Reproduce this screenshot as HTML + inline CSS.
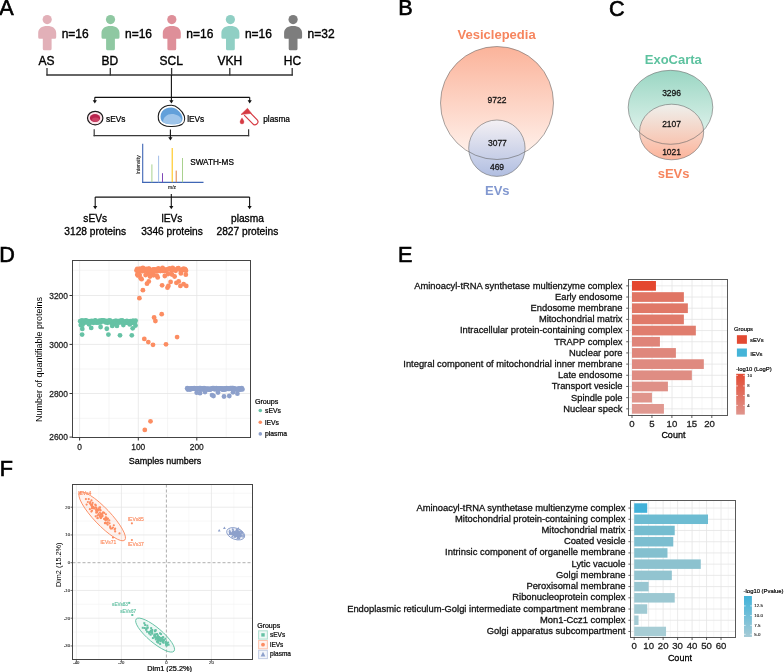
<!DOCTYPE html><html><head><meta charset="utf-8"><style>html,body{margin:0;padding:0;background:#fff;overflow:hidden}svg{display:block}</style></head><body><svg width="784" height="672" viewBox="0 0 784 672" style="font-family:'Liberation Sans',Arial,sans-serif"><defs><linearGradient id="gB1" x1="0" y1="0" x2="0" y2="1"><stop offset="0" stop-color="#fbb39a"/><stop offset="1" stop-color="#fff4ef"/></linearGradient><linearGradient id="gB2" x1="0" y1="0" x2="0" y2="1"><stop offset="0" stop-color="#f3f2f7"/><stop offset="1" stop-color="#aab8de"/></linearGradient><linearGradient id="gC1" x1="0" y1="0" x2="0" y2="1"><stop offset="0" stop-color="#9ad6c3"/><stop offset="1" stop-color="#eaf7f2"/></linearGradient><linearGradient id="gC2" x1="0" y1="0" x2="0" y2="1"><stop offset="0" stop-color="#f2f1ee"/><stop offset="1" stop-color="#fcae93"/></linearGradient><clipPath id="cpB"><circle cx="496.9" cy="148.2" r="28.2"/></clipPath><clipPath id="cpC"><ellipse cx="671.6" cy="132" rx="32.1" ry="27.8"/></clipPath><linearGradient id="cb1" x1="0" y1="0" x2="0" y2="1"><stop offset="0" stop-color="#e34a33"/><stop offset="1" stop-color="#df958d"/></linearGradient><linearGradient id="cb2" x1="0" y1="0" x2="0" y2="1"><stop offset="0" stop-color="#41b3da"/><stop offset="1" stop-color="#a6cbd6"/></linearGradient></defs><text x="-0.70" y="15.40" font-size="21.6" text-anchor="start" fill="#000" stroke="#000" stroke-width="0.648" >A</text>
<text x="398.30" y="15.40" font-size="21.6" text-anchor="start" fill="#000" stroke="#000" stroke-width="0.648" >B</text>
<text x="608.90" y="15.80" font-size="21.6" text-anchor="start" fill="#000" stroke="#000" stroke-width="0.648" >C</text>
<text x="-0.70" y="261.50" font-size="21.6" text-anchor="start" fill="#000" stroke="#000" stroke-width="0.648" >D</text>
<text x="398.10" y="261.80" font-size="21.6" text-anchor="start" fill="#000" stroke="#000" stroke-width="0.648" >E</text>
<text x="-0.30" y="476.00" font-size="21.6" text-anchor="start" fill="#000" stroke="#000" stroke-width="0.648" >F</text>
<circle cx="47.20" cy="19.60" r="4.6" fill="#e2b0b8" />
<path d="M38.2,33 C38.2,28.5 41.7,25.9 47.2,25.9 C52.7,25.9 56.2,28.5 56.2,33 L56.2,37.3 Q56.2,38.8 54.7,38.8 L51.6,38.8 L51.6,48.7 Q51.6,50.2 50.1,50.2 L44.300000000000004,50.2 Q42.800000000000004,50.2 42.800000000000004,48.7 L42.800000000000004,38.8 L39.7,38.8 Q38.2,38.8 38.2,37.3 Z" fill="#e2b0b8"/>
<text x="61.70" y="37.80" font-size="12" text-anchor="start" fill="#000" stroke="#000" stroke-width="0.36" >n=16</text>
<text x="46.60" y="65.20" font-size="12" text-anchor="middle" fill="#000" stroke="#000" stroke-width="0.36" >AS</text>
<circle cx="110.50" cy="19.60" r="4.6" fill="#8fc8a2" />
<path d="M101.5,33 C101.5,28.5 105.0,25.9 110.5,25.9 C116.0,25.9 119.5,28.5 119.5,33 L119.5,37.3 Q119.5,38.8 118.0,38.8 L114.9,38.8 L114.9,48.7 Q114.9,50.2 113.4,50.2 L107.6,50.2 Q106.1,50.2 106.1,48.7 L106.1,38.8 L103.0,38.8 Q101.5,38.8 101.5,37.3 Z" fill="#8fc8a2"/>
<text x="125.00" y="37.80" font-size="12" text-anchor="start" fill="#000" stroke="#000" stroke-width="0.36" >n=16</text>
<text x="109.90" y="65.20" font-size="12" text-anchor="middle" fill="#000" stroke="#000" stroke-width="0.36" >BD</text>
<circle cx="171.80" cy="19.60" r="4.6" fill="#de8f99" />
<path d="M162.8,33 C162.8,28.5 166.3,25.9 171.8,25.9 C177.3,25.9 180.8,28.5 180.8,33 L180.8,37.3 Q180.8,38.8 179.3,38.8 L176.20000000000002,38.8 L176.20000000000002,48.7 Q176.20000000000002,50.2 174.70000000000002,50.2 L168.9,50.2 Q167.4,50.2 167.4,48.7 L167.4,38.8 L164.3,38.8 Q162.8,38.8 162.8,37.3 Z" fill="#de8f99"/>
<text x="186.30" y="37.80" font-size="12" text-anchor="start" fill="#000" stroke="#000" stroke-width="0.36" >n=16</text>
<text x="171.20" y="65.20" font-size="12" text-anchor="middle" fill="#000" stroke="#000" stroke-width="0.36" >SCL</text>
<circle cx="230.40" cy="19.60" r="4.6" fill="#90cfc4" />
<path d="M221.4,33 C221.4,28.5 224.9,25.9 230.4,25.9 C235.9,25.9 239.4,28.5 239.4,33 L239.4,37.3 Q239.4,38.8 237.9,38.8 L234.8,38.8 L234.8,48.7 Q234.8,50.2 233.3,50.2 L227.5,50.2 Q226.0,50.2 226.0,48.7 L226.0,38.8 L222.9,38.8 Q221.4,38.8 221.4,37.3 Z" fill="#90cfc4"/>
<text x="244.90" y="37.80" font-size="12" text-anchor="start" fill="#000" stroke="#000" stroke-width="0.36" >n=16</text>
<text x="229.80" y="65.20" font-size="12" text-anchor="middle" fill="#000" stroke="#000" stroke-width="0.36" >VKH</text>
<circle cx="293.10" cy="19.60" r="4.6" fill="#7d7d7d" />
<path d="M284.1,33 C284.1,28.5 287.6,25.9 293.1,25.9 C298.6,25.9 302.1,28.5 302.1,33 L302.1,37.3 Q302.1,38.8 300.6,38.8 L297.5,38.8 L297.5,48.7 Q297.5,50.2 296.0,50.2 L290.20000000000005,50.2 Q288.70000000000005,50.2 288.70000000000005,48.7 L288.70000000000005,38.8 L285.6,38.8 Q284.1,38.8 284.1,37.3 Z" fill="#7d7d7d"/>
<text x="307.60" y="37.80" font-size="12" text-anchor="start" fill="#000" stroke="#000" stroke-width="0.36" >n=32</text>
<text x="292.50" y="65.20" font-size="12" text-anchor="middle" fill="#000" stroke="#000" stroke-width="0.36" >HC</text>
<line x1="47.00" y1="68.00" x2="47.00" y2="75.60" stroke="#333" stroke-width="1.3" />
<line x1="110.30" y1="68.00" x2="110.30" y2="75.60" stroke="#333" stroke-width="1.3" />
<line x1="171.60" y1="68.00" x2="171.60" y2="75.60" stroke="#333" stroke-width="1.3" />
<line x1="229.80" y1="68.00" x2="229.80" y2="75.60" stroke="#333" stroke-width="1.3" />
<line x1="292.20" y1="68.00" x2="292.20" y2="75.60" stroke="#333" stroke-width="1.3" />
<line x1="46.40" y1="75.00" x2="292.80" y2="75.00" stroke="#333" stroke-width="1.3" />
<line x1="171.40" y1="75.00" x2="171.40" y2="97.30" stroke="#111" stroke-width="1.1" />
<line x1="94.80" y1="97.30" x2="249.70" y2="97.30" stroke="#111" stroke-width="1.2" />
<line x1="94.80" y1="97.30" x2="94.80" y2="101.00" stroke="#111" stroke-width="1.1" />
<path d="M92.7,100.3 L96.89999999999999,100.3 L94.8,103.5 Z" fill="#111"/>
<line x1="171.40" y1="97.30" x2="171.40" y2="101.00" stroke="#111" stroke-width="1.1" />
<path d="M169.3,100.3 L173.5,100.3 L171.4,103.5 Z" fill="#111"/>
<line x1="249.70" y1="97.30" x2="249.70" y2="101.00" stroke="#111" stroke-width="1.1" />
<path d="M247.6,100.3 L251.79999999999998,100.3 L249.7,103.5 Z" fill="#111"/>
<ellipse cx="95.2" cy="118.1" rx="7.7" ry="6.8" fill="#fde4ea" stroke="#1a1a1a" stroke-width="1.2"/>
<ellipse cx="95.0" cy="118" rx="5.2" ry="4.0" fill="#b8234c"/>
<ellipse cx="95.6" cy="119.6" rx="3.6" ry="2.2" fill="#cf4a6c" opacity="0.8"/>
<text x="106.00" y="121.50" font-size="8.3" text-anchor="start" fill="#000" stroke="#000" stroke-width="0.249" >sEVs</text>
<path d="M171.4,105.3 C176,105.2 182.5,110.5 184.3,116 C185.6,120.5 183.5,124.2 179.5,125.4 C176.5,126.4 173.5,126.6 170.5,126.5 C166,126.4 161.5,125 159.5,122 C157.6,119 157.8,113.5 160.2,110.3 C162.5,107 166.5,105.3 171.4,105.3 Z" fill="#ffffff" stroke="#1a1a1a" stroke-width="1.1"/>
<path d="M171.4,107.6 C175.5,107.6 180.8,111.8 182.2,116.4 C183.2,119.8 181.7,122.6 178.8,123.5 C176,124.3 173.3,124.4 170.6,124.3 C166.6,124.2 163,123.1 161.5,120.8 C160,118.4 160.2,114.2 162.1,111.6 C164,109.1 167.3,107.6 171.4,107.6 Z" fill="#62a0da"/>
<path d="M163,121.5 C163.5,117 167,114.2 171.5,114 C176,113.8 180.2,116 181.6,119.8 C181,122.5 178.5,123.6 176,124 C173.5,124.3 171,124.3 168.5,124.1 C166,123.8 164,123 163,121.5 Z" fill="#9fc5ea"/>
<text x="187.20" y="121.70" font-size="8.3" text-anchor="start" fill="#000" stroke="#000" stroke-width="0.249" >lEVs</text>
<g fill="#d63b43" stroke="#d63b43"><path d="M241,114.5 L247.5,108.3 L251.3,113.3 Z" stroke-width="0.6"/><path d="M244.2,115.2 L252.6,123.6 A2.7,2.7 0 0 0 257.2,119.8 L250.6,113.2" fill="none" stroke-width="1.2"/><path d="M242,117.8 C241,119.6 240,120.8 240,122 A2,2 0 0 0 244,122 C244,120.8 243,119.6 242,117.8 Z" stroke-width="0.3"/></g>
<text x="263.20" y="122.20" font-size="8.3" text-anchor="start" fill="#000" stroke="#000" stroke-width="0.249" >plasma</text>
<line x1="94.20" y1="129.30" x2="94.20" y2="136.20" stroke="#3a3a3a" stroke-width="1.2" />
<line x1="248.60" y1="129.30" x2="248.60" y2="136.20" stroke="#3a3a3a" stroke-width="1.2" />
<line x1="93.60" y1="135.70" x2="249.20" y2="135.70" stroke="#3a3a3a" stroke-width="1.2" />
<line x1="170.40" y1="129.60" x2="170.40" y2="138.00" stroke="#111" stroke-width="1.1" />
<path d="M168.3,137.3 L172.5,137.3 L170.4,140.5 Z" fill="#111"/>
<line x1="142.70" y1="143.80" x2="142.70" y2="183.00" stroke="#3f66b5" stroke-width="1.1" />
<line x1="142.20" y1="182.40" x2="203.50" y2="182.40" stroke="#3f66b5" stroke-width="1.2" />
<line x1="151.90" y1="164.40" x2="151.90" y2="182.30" stroke="#a9d18e" stroke-width="1" />
<line x1="158.60" y1="155.70" x2="158.60" y2="182.30" stroke="#a3bde8" stroke-width="1" />
<line x1="162.50" y1="173.20" x2="162.50" y2="182.30" stroke="#8048b8" stroke-width="1" />
<line x1="172.20" y1="148.00" x2="172.20" y2="182.30" stroke="#ffc000" stroke-width="1" />
<line x1="176.20" y1="170.60" x2="176.20" y2="182.30" stroke="#dd8040" stroke-width="1" />
<line x1="182.50" y1="158.00" x2="182.50" y2="182.30" stroke="#a9d18e" stroke-width="1" />
<text x="140.4" y="164.9" font-size="5.2" text-anchor="middle" transform="rotate(-90 140.4 164.9)" fill="#222" stroke="#222" stroke-width="0.12">Intensity</text>
<text x="172.00" y="188.60" font-size="5" text-anchor="middle" fill="#222" stroke="#222" stroke-width="0.15" >m/z</text>
<text x="190.20" y="165.10" font-size="8.2" text-anchor="start" fill="#000" stroke="#000" stroke-width="0.246" >SWATH-MS</text>
<line x1="171.30" y1="194.00" x2="171.30" y2="197.10" stroke="#111" stroke-width="1.1" />
<line x1="95.20" y1="197.20" x2="249.60" y2="197.20" stroke="#111" stroke-width="1.3" />
<line x1="95.20" y1="197.10" x2="95.20" y2="206.70" stroke="#111" stroke-width="1.1" />
<path d="M93.10000000000001,206.0 L97.3,206.0 L95.2,209.2 Z" fill="#111"/>
<line x1="171.30" y1="197.10" x2="171.30" y2="206.70" stroke="#111" stroke-width="1.1" />
<path d="M169.20000000000002,206.0 L173.4,206.0 L171.3,209.2 Z" fill="#111"/>
<line x1="249.60" y1="197.10" x2="249.60" y2="206.70" stroke="#111" stroke-width="1.1" />
<path d="M247.5,206.0 L251.7,206.0 L249.6,209.2 Z" fill="#111"/>
<text x="95.20" y="222.00" font-size="10.2" text-anchor="middle" fill="#000" stroke="#000" stroke-width="0.306" >sEVs</text>
<text x="95.20" y="234.50" font-size="10.2" text-anchor="middle" fill="#000" stroke="#000" stroke-width="0.306" >3128 proteins</text>
<text x="172.00" y="222.00" font-size="10.2" text-anchor="middle" fill="#000" stroke="#000" stroke-width="0.306" >lEVs</text>
<text x="172.00" y="234.50" font-size="10.2" text-anchor="middle" fill="#000" stroke="#000" stroke-width="0.306" >3346 proteins</text>
<text x="247.40" y="222.00" font-size="10.2" text-anchor="middle" fill="#000" stroke="#000" stroke-width="0.306" >plasma</text>
<text x="247.40" y="234.50" font-size="10.2" text-anchor="middle" fill="#000" stroke="#000" stroke-width="0.306" >2827 proteins</text>
<circle cx="497" cy="103" r="56.5" fill="url(#gB1)" stroke="#6b6b6b" stroke-width="0.6"/>
<circle cx="496.9" cy="148.2" r="28.2" fill="url(#gB2)" fill-opacity="0.92" stroke="#6b6b6b" stroke-width="0.6"/>
<circle cx="497" cy="103" r="56.5" fill="none" stroke="#6b6b6b" stroke-width="0.6" clip-path="url(#cpB)"/>
<text x="496.60" y="38.70" font-size="13" text-anchor="middle" fill="#f6855e" font-weight="bold" >Vesiclepedia</text>
<text x="497.00" y="102.80" font-size="8.5" text-anchor="middle" fill="#111" stroke="#111" stroke-width="0.255" >9722</text>
<text x="497.40" y="145.90" font-size="8.5" text-anchor="middle" fill="#111" stroke="#111" stroke-width="0.255" >3077</text>
<text x="497.00" y="169.90" font-size="8.5" text-anchor="middle" fill="#111" stroke="#111" stroke-width="0.255" >469</text>
<text x="497.30" y="194.60" font-size="13" text-anchor="middle" fill="#8298d0" font-weight="bold" >EVs</text>
<ellipse cx="670.5" cy="107.3" rx="42.3" ry="37" fill="url(#gC1)" stroke="#6b6b6b" stroke-width="0.6"/>
<ellipse cx="671.6" cy="132" rx="32.1" ry="27.8" fill="url(#gC2)" fill-opacity="0.93" stroke="#6b6b6b" stroke-width="0.6"/>
<ellipse cx="670.5" cy="107.3" rx="42.3" ry="37" fill="none" stroke="#6b6b6b" stroke-width="0.6" clip-path="url(#cpC)"/>
<text x="673.30" y="63.60" font-size="13" text-anchor="middle" fill="#5dc29f" font-weight="bold" >ExoCarta</text>
<text x="671.60" y="96.10" font-size="8.5" text-anchor="middle" fill="#111" stroke="#111" stroke-width="0.255" >3296</text>
<text x="671.60" y="126.50" font-size="8.5" text-anchor="middle" fill="#111" stroke="#111" stroke-width="0.255" >2107</text>
<text x="671.60" y="155.40" font-size="8.5" text-anchor="middle" fill="#111" stroke="#111" stroke-width="0.255" >1021</text>
<text x="673.60" y="177.90" font-size="13" text-anchor="middle" fill="#f6855e" font-weight="bold" >sEVs</text>
<rect x="72.50" y="260.50" width="178.00" height="177.00" fill="#ffffff" />
<line x1="72.50" y1="270.30" x2="250.50" y2="270.30" stroke="#eeeeee" stroke-width="0.6" />
<line x1="72.50" y1="320.00" x2="250.50" y2="320.00" stroke="#eeeeee" stroke-width="0.6" />
<line x1="72.50" y1="369.00" x2="250.50" y2="369.00" stroke="#eeeeee" stroke-width="0.6" />
<line x1="72.50" y1="418.30" x2="250.50" y2="418.30" stroke="#eeeeee" stroke-width="0.6" />
<line x1="109.00" y1="260.50" x2="109.00" y2="437.50" stroke="#eeeeee" stroke-width="0.6" />
<line x1="167.60" y1="260.50" x2="167.60" y2="437.50" stroke="#eeeeee" stroke-width="0.6" />
<line x1="226.20" y1="260.50" x2="226.20" y2="437.50" stroke="#eeeeee" stroke-width="0.6" />
<line x1="72.50" y1="295.50" x2="250.50" y2="295.50" stroke="#e6e6e6" stroke-width="0.8" />
<line x1="72.50" y1="344.40" x2="250.50" y2="344.40" stroke="#e6e6e6" stroke-width="0.8" />
<line x1="72.50" y1="393.50" x2="250.50" y2="393.50" stroke="#e6e6e6" stroke-width="0.8" />
<line x1="79.60" y1="260.50" x2="79.60" y2="437.50" stroke="#e6e6e6" stroke-width="0.8" />
<line x1="138.30" y1="260.50" x2="138.30" y2="437.50" stroke="#e6e6e6" stroke-width="0.8" />
<line x1="196.80" y1="260.50" x2="196.80" y2="437.50" stroke="#e6e6e6" stroke-width="0.8" />
<circle cx="80.20" cy="321.21" r="2.4" fill="#66c2a5" />
<circle cx="80.78" cy="325.09" r="2.4" fill="#66c2a5" />
<circle cx="81.37" cy="325.02" r="2.4" fill="#66c2a5" />
<circle cx="81.95" cy="320.49" r="2.4" fill="#66c2a5" />
<circle cx="82.53" cy="324.82" r="2.4" fill="#66c2a5" />
<circle cx="83.12" cy="322.47" r="2.4" fill="#66c2a5" />
<circle cx="83.70" cy="320.96" r="2.4" fill="#66c2a5" />
<circle cx="84.28" cy="322.77" r="2.4" fill="#66c2a5" />
<circle cx="84.87" cy="321.39" r="2.4" fill="#66c2a5" />
<circle cx="85.45" cy="320.52" r="2.4" fill="#66c2a5" />
<circle cx="86.03" cy="321.12" r="2.4" fill="#66c2a5" />
<circle cx="86.61" cy="320.69" r="2.4" fill="#66c2a5" />
<circle cx="87.20" cy="322.44" r="2.4" fill="#66c2a5" />
<circle cx="87.78" cy="321.85" r="2.4" fill="#66c2a5" />
<circle cx="88.36" cy="321.33" r="2.4" fill="#66c2a5" />
<circle cx="88.95" cy="324.29" r="2.4" fill="#66c2a5" />
<circle cx="89.53" cy="322.10" r="2.4" fill="#66c2a5" />
<circle cx="90.11" cy="321.19" r="2.4" fill="#66c2a5" />
<circle cx="90.70" cy="321.53" r="2.4" fill="#66c2a5" />
<circle cx="91.28" cy="322.39" r="2.4" fill="#66c2a5" />
<circle cx="91.86" cy="321.01" r="2.4" fill="#66c2a5" />
<circle cx="92.45" cy="321.71" r="2.4" fill="#66c2a5" />
<circle cx="93.03" cy="322.22" r="2.4" fill="#66c2a5" />
<circle cx="93.61" cy="322.85" r="2.4" fill="#66c2a5" />
<circle cx="94.20" cy="321.45" r="2.4" fill="#66c2a5" />
<circle cx="94.78" cy="320.78" r="2.4" fill="#66c2a5" />
<circle cx="95.36" cy="320.50" r="2.4" fill="#66c2a5" />
<circle cx="95.95" cy="322.31" r="2.4" fill="#66c2a5" />
<circle cx="96.53" cy="322.59" r="2.4" fill="#66c2a5" />
<circle cx="97.11" cy="322.14" r="2.4" fill="#66c2a5" />
<circle cx="97.69" cy="321.85" r="2.4" fill="#66c2a5" />
<circle cx="98.28" cy="322.50" r="2.4" fill="#66c2a5" />
<circle cx="98.86" cy="321.59" r="2.4" fill="#66c2a5" />
<circle cx="99.44" cy="320.55" r="2.4" fill="#66c2a5" />
<circle cx="100.03" cy="322.02" r="2.4" fill="#66c2a5" />
<circle cx="100.61" cy="322.45" r="2.4" fill="#66c2a5" />
<circle cx="101.19" cy="321.36" r="2.4" fill="#66c2a5" />
<circle cx="101.78" cy="320.46" r="2.4" fill="#66c2a5" />
<circle cx="102.36" cy="320.82" r="2.4" fill="#66c2a5" />
<circle cx="102.94" cy="320.55" r="2.4" fill="#66c2a5" />
<circle cx="103.53" cy="320.72" r="2.4" fill="#66c2a5" />
<circle cx="104.11" cy="321.38" r="2.4" fill="#66c2a5" />
<circle cx="104.69" cy="320.60" r="2.4" fill="#66c2a5" />
<circle cx="105.28" cy="321.77" r="2.4" fill="#66c2a5" />
<circle cx="105.86" cy="322.45" r="2.4" fill="#66c2a5" />
<circle cx="106.44" cy="321.10" r="2.4" fill="#66c2a5" />
<circle cx="107.03" cy="321.30" r="2.4" fill="#66c2a5" />
<circle cx="107.61" cy="322.79" r="2.4" fill="#66c2a5" />
<circle cx="108.19" cy="320.84" r="2.4" fill="#66c2a5" />
<circle cx="108.77" cy="320.98" r="2.4" fill="#66c2a5" />
<circle cx="109.36" cy="321.87" r="2.4" fill="#66c2a5" />
<circle cx="109.94" cy="320.41" r="2.4" fill="#66c2a5" />
<circle cx="110.52" cy="321.32" r="2.4" fill="#66c2a5" />
<circle cx="111.11" cy="322.78" r="2.4" fill="#66c2a5" />
<circle cx="111.69" cy="321.69" r="2.4" fill="#66c2a5" />
<circle cx="112.27" cy="325.96" r="2.4" fill="#66c2a5" />
<circle cx="112.86" cy="322.35" r="2.4" fill="#66c2a5" />
<circle cx="113.44" cy="322.39" r="2.4" fill="#66c2a5" />
<circle cx="114.02" cy="321.40" r="2.4" fill="#66c2a5" />
<circle cx="114.61" cy="323.96" r="2.4" fill="#66c2a5" />
<circle cx="115.19" cy="320.92" r="2.4" fill="#66c2a5" />
<circle cx="115.77" cy="323.80" r="2.4" fill="#66c2a5" />
<circle cx="116.36" cy="320.78" r="2.4" fill="#66c2a5" />
<circle cx="116.94" cy="325.90" r="2.4" fill="#66c2a5" />
<circle cx="117.52" cy="321.94" r="2.4" fill="#66c2a5" />
<circle cx="118.11" cy="321.03" r="2.4" fill="#66c2a5" />
<circle cx="118.69" cy="321.31" r="2.4" fill="#66c2a5" />
<circle cx="119.27" cy="322.52" r="2.4" fill="#66c2a5" />
<circle cx="119.85" cy="321.56" r="2.4" fill="#66c2a5" />
<circle cx="120.44" cy="320.61" r="2.4" fill="#66c2a5" />
<circle cx="121.02" cy="321.26" r="2.4" fill="#66c2a5" />
<circle cx="121.60" cy="322.47" r="2.4" fill="#66c2a5" />
<circle cx="122.19" cy="320.46" r="2.4" fill="#66c2a5" />
<circle cx="122.77" cy="321.72" r="2.4" fill="#66c2a5" />
<circle cx="123.35" cy="325.07" r="2.4" fill="#66c2a5" />
<circle cx="123.94" cy="322.85" r="2.4" fill="#66c2a5" />
<circle cx="124.52" cy="322.14" r="2.4" fill="#66c2a5" />
<circle cx="125.10" cy="321.32" r="2.4" fill="#66c2a5" />
<circle cx="125.69" cy="322.33" r="2.4" fill="#66c2a5" />
<circle cx="126.27" cy="322.35" r="2.4" fill="#66c2a5" />
<circle cx="126.85" cy="320.96" r="2.4" fill="#66c2a5" />
<circle cx="127.44" cy="322.86" r="2.4" fill="#66c2a5" />
<circle cx="128.02" cy="322.42" r="2.4" fill="#66c2a5" />
<circle cx="128.60" cy="322.25" r="2.4" fill="#66c2a5" />
<circle cx="129.19" cy="321.69" r="2.4" fill="#66c2a5" />
<circle cx="129.77" cy="324.47" r="2.4" fill="#66c2a5" />
<circle cx="130.35" cy="321.05" r="2.4" fill="#66c2a5" />
<circle cx="130.93" cy="322.79" r="2.4" fill="#66c2a5" />
<circle cx="131.52" cy="322.74" r="2.4" fill="#66c2a5" />
<circle cx="132.10" cy="322.79" r="2.4" fill="#66c2a5" />
<circle cx="132.68" cy="320.95" r="2.4" fill="#66c2a5" />
<circle cx="133.27" cy="320.89" r="2.4" fill="#66c2a5" />
<circle cx="133.85" cy="321.96" r="2.4" fill="#66c2a5" />
<circle cx="134.43" cy="322.50" r="2.4" fill="#66c2a5" />
<circle cx="135.02" cy="322.03" r="2.4" fill="#66c2a5" />
<circle cx="135.60" cy="320.61" r="2.4" fill="#66c2a5" />
<circle cx="82.30" cy="328.90" r="2.4" fill="#66c2a5" />
<circle cx="82.10" cy="334.60" r="2.4" fill="#66c2a5" />
<circle cx="108.40" cy="334.60" r="2.4" fill="#66c2a5" />
<circle cx="120.00" cy="335.30" r="2.4" fill="#66c2a5" />
<circle cx="131.80" cy="335.30" r="2.4" fill="#66c2a5" />
<circle cx="91.20" cy="327.90" r="2.4" fill="#66c2a5" />
<circle cx="100.60" cy="327.00" r="2.4" fill="#66c2a5" />
<circle cx="106.80" cy="328.75" r="2.4" fill="#66c2a5" />
<circle cx="132.70" cy="328.30" r="2.4" fill="#66c2a5" />
<circle cx="135.50" cy="325.50" r="2.4" fill="#66c2a5" />
<circle cx="181.97" cy="270.46" r="2.4" fill="#fc8d62" />
<circle cx="173.96" cy="269.43" r="2.4" fill="#fc8d62" />
<circle cx="145.26" cy="270.48" r="2.4" fill="#fc8d62" />
<circle cx="152.99" cy="270.52" r="2.4" fill="#fc8d62" />
<circle cx="185.08" cy="269.15" r="2.4" fill="#fc8d62" />
<circle cx="156.45" cy="271.02" r="2.4" fill="#fc8d62" />
<circle cx="172.68" cy="268.38" r="2.4" fill="#fc8d62" />
<circle cx="142.68" cy="268.31" r="2.4" fill="#fc8d62" />
<circle cx="181.72" cy="270.54" r="2.4" fill="#fc8d62" />
<circle cx="143.64" cy="270.61" r="2.4" fill="#fc8d62" />
<circle cx="185.51" cy="270.03" r="2.4" fill="#fc8d62" />
<circle cx="153.89" cy="269.67" r="2.4" fill="#fc8d62" />
<circle cx="142.88" cy="267.85" r="2.4" fill="#fc8d62" />
<circle cx="185.04" cy="270.01" r="2.4" fill="#fc8d62" />
<circle cx="162.73" cy="270.97" r="2.4" fill="#fc8d62" />
<circle cx="158.08" cy="270.76" r="2.4" fill="#fc8d62" />
<circle cx="177.77" cy="268.52" r="2.4" fill="#fc8d62" />
<circle cx="148.94" cy="268.80" r="2.4" fill="#fc8d62" />
<circle cx="148.38" cy="269.79" r="2.4" fill="#fc8d62" />
<circle cx="149.32" cy="269.22" r="2.4" fill="#fc8d62" />
<circle cx="142.88" cy="270.89" r="2.4" fill="#fc8d62" />
<circle cx="154.06" cy="269.36" r="2.4" fill="#fc8d62" />
<circle cx="165.58" cy="270.87" r="2.4" fill="#fc8d62" />
<circle cx="157.42" cy="270.92" r="2.4" fill="#fc8d62" />
<circle cx="161.48" cy="269.61" r="2.4" fill="#fc8d62" />
<circle cx="162.58" cy="267.86" r="2.4" fill="#fc8d62" />
<circle cx="158.39" cy="268.42" r="2.4" fill="#fc8d62" />
<circle cx="136.50" cy="270.52" r="2.4" fill="#fc8d62" />
<circle cx="144.95" cy="269.41" r="2.4" fill="#fc8d62" />
<circle cx="172.70" cy="269.69" r="2.4" fill="#fc8d62" />
<circle cx="152.66" cy="269.56" r="2.4" fill="#fc8d62" />
<circle cx="164.18" cy="270.47" r="2.4" fill="#fc8d62" />
<circle cx="141.63" cy="269.71" r="2.4" fill="#fc8d62" />
<circle cx="148.77" cy="268.74" r="2.4" fill="#fc8d62" />
<circle cx="175.07" cy="269.53" r="2.4" fill="#fc8d62" />
<circle cx="164.50" cy="270.38" r="2.4" fill="#fc8d62" />
<circle cx="182.11" cy="269.31" r="2.4" fill="#fc8d62" />
<circle cx="167.05" cy="269.52" r="2.4" fill="#fc8d62" />
<circle cx="162.01" cy="270.16" r="2.4" fill="#fc8d62" />
<circle cx="159.01" cy="269.61" r="2.4" fill="#fc8d62" />
<circle cx="160.30" cy="271.00" r="2.4" fill="#fc8d62" />
<circle cx="171.40" cy="270.78" r="2.4" fill="#fc8d62" />
<circle cx="183.60" cy="268.68" r="2.4" fill="#fc8d62" />
<circle cx="164.39" cy="271.01" r="2.4" fill="#fc8d62" />
<circle cx="178.47" cy="268.27" r="2.4" fill="#fc8d62" />
<circle cx="142.41" cy="269.30" r="2.4" fill="#fc8d62" />
<circle cx="139.94" cy="268.62" r="2.4" fill="#fc8d62" />
<circle cx="139.97" cy="270.08" r="2.4" fill="#fc8d62" />
<circle cx="175.65" cy="270.85" r="2.4" fill="#fc8d62" />
<circle cx="144.05" cy="270.23" r="2.4" fill="#fc8d62" />
<circle cx="169.44" cy="268.29" r="2.4" fill="#fc8d62" />
<circle cx="180.62" cy="271.09" r="2.4" fill="#fc8d62" />
<circle cx="147.32" cy="271.04" r="2.4" fill="#fc8d62" />
<circle cx="156.29" cy="269.46" r="2.4" fill="#fc8d62" />
<circle cx="185.99" cy="270.63" r="2.4" fill="#fc8d62" />
<circle cx="144.41" cy="269.27" r="2.4" fill="#fc8d62" />
<circle cx="162.18" cy="268.95" r="2.4" fill="#fc8d62" />
<circle cx="146.13" cy="268.88" r="2.4" fill="#fc8d62" />
<circle cx="172.55" cy="267.87" r="2.4" fill="#fc8d62" />
<circle cx="164.11" cy="269.30" r="2.4" fill="#fc8d62" />
<circle cx="137.21" cy="268.93" r="2.4" fill="#fc8d62" />
<circle cx="167.62" cy="269.54" r="2.4" fill="#fc8d62" />
<circle cx="137.88" cy="275.43" r="2.4" fill="#fc8d62" />
<circle cx="153.45" cy="275.36" r="2.4" fill="#fc8d62" />
<circle cx="138.75" cy="271.83" r="2.4" fill="#fc8d62" />
<circle cx="137.35" cy="274.39" r="2.4" fill="#fc8d62" />
<circle cx="142.31" cy="271.15" r="2.4" fill="#fc8d62" />
<circle cx="145.58" cy="275.06" r="2.4" fill="#fc8d62" />
<circle cx="154.11" cy="271.79" r="2.4" fill="#fc8d62" />
<circle cx="139.71" cy="275.10" r="2.4" fill="#fc8d62" />
<circle cx="148.77" cy="274.00" r="2.4" fill="#fc8d62" />
<circle cx="138.42" cy="270.79" r="2.4" fill="#fc8d62" />
<circle cx="151.30" cy="272.63" r="2.4" fill="#fc8d62" />
<circle cx="138.06" cy="275.19" r="2.4" fill="#fc8d62" />
<circle cx="150.14" cy="274.51" r="2.4" fill="#fc8d62" />
<circle cx="138.30" cy="274.78" r="2.4" fill="#fc8d62" />
<circle cx="140.70" cy="278.30" r="2.4" fill="#fc8d62" />
<circle cx="141.60" cy="279.20" r="2.4" fill="#fc8d62" />
<circle cx="150.00" cy="276.50" r="2.4" fill="#fc8d62" />
<circle cx="148.75" cy="281.40" r="2.4" fill="#fc8d62" />
<circle cx="147.00" cy="283.70" r="2.4" fill="#fc8d62" />
<circle cx="142.90" cy="290.20" r="2.4" fill="#fc8d62" />
<circle cx="139.40" cy="298.20" r="2.4" fill="#fc8d62" />
<circle cx="157.70" cy="277.40" r="2.4" fill="#fc8d62" />
<circle cx="156.80" cy="275.60" r="2.4" fill="#fc8d62" />
<circle cx="162.10" cy="285.30" r="2.4" fill="#fc8d62" />
<circle cx="167.50" cy="287.70" r="2.4" fill="#fc8d62" />
<circle cx="168.40" cy="285.90" r="2.4" fill="#fc8d62" />
<circle cx="170.60" cy="281.90" r="2.4" fill="#fc8d62" />
<circle cx="164.80" cy="276.00" r="2.4" fill="#fc8d62" />
<circle cx="174.60" cy="276.50" r="2.4" fill="#fc8d62" />
<circle cx="176.40" cy="282.80" r="2.4" fill="#fc8d62" />
<circle cx="178.70" cy="281.40" r="2.4" fill="#fc8d62" />
<circle cx="180.40" cy="285.90" r="2.4" fill="#fc8d62" />
<circle cx="183.60" cy="284.10" r="2.4" fill="#fc8d62" />
<circle cx="186.25" cy="285.90" r="2.4" fill="#fc8d62" />
<circle cx="185.80" cy="274.70" r="2.4" fill="#fc8d62" />
<circle cx="180.90" cy="273.40" r="2.4" fill="#fc8d62" />
<circle cx="172.00" cy="274.50" r="2.4" fill="#fc8d62" />
<circle cx="168.00" cy="274.00" r="2.4" fill="#fc8d62" />
<circle cx="161.70" cy="314.20" r="2.4" fill="#fc8d62" />
<circle cx="154.10" cy="317.50" r="2.4" fill="#fc8d62" />
<circle cx="155.40" cy="321.00" r="2.4" fill="#fc8d62" />
<circle cx="144.30" cy="338.90" r="2.4" fill="#fc8d62" />
<circle cx="148.30" cy="342.10" r="2.4" fill="#fc8d62" />
<circle cx="153.00" cy="344.80" r="2.4" fill="#fc8d62" />
<circle cx="166.00" cy="344.30" r="2.4" fill="#fc8d62" />
<circle cx="177.10" cy="337.10" r="2.4" fill="#fc8d62" />
<circle cx="144.80" cy="429.90" r="2.4" fill="#fc8d62" />
<circle cx="150.50" cy="421.30" r="2.4" fill="#fc8d62" />
<circle cx="187.20" cy="388.21" r="2.4" fill="#8da0cb" />
<circle cx="187.78" cy="389.48" r="2.4" fill="#8da0cb" />
<circle cx="188.36" cy="388.83" r="2.4" fill="#8da0cb" />
<circle cx="188.94" cy="388.64" r="2.4" fill="#8da0cb" />
<circle cx="189.52" cy="388.98" r="2.4" fill="#8da0cb" />
<circle cx="190.11" cy="389.58" r="2.4" fill="#8da0cb" />
<circle cx="190.69" cy="388.53" r="2.4" fill="#8da0cb" />
<circle cx="191.27" cy="388.31" r="2.4" fill="#8da0cb" />
<circle cx="191.85" cy="388.94" r="2.4" fill="#8da0cb" />
<circle cx="192.43" cy="388.48" r="2.4" fill="#8da0cb" />
<circle cx="193.01" cy="388.28" r="2.4" fill="#8da0cb" />
<circle cx="193.59" cy="388.36" r="2.4" fill="#8da0cb" />
<circle cx="194.17" cy="388.18" r="2.4" fill="#8da0cb" />
<circle cx="194.75" cy="388.42" r="2.4" fill="#8da0cb" />
<circle cx="195.33" cy="388.60" r="2.4" fill="#8da0cb" />
<circle cx="195.92" cy="388.59" r="2.4" fill="#8da0cb" />
<circle cx="196.50" cy="389.32" r="2.4" fill="#8da0cb" />
<circle cx="197.08" cy="388.56" r="2.4" fill="#8da0cb" />
<circle cx="197.66" cy="388.90" r="2.4" fill="#8da0cb" />
<circle cx="198.24" cy="388.38" r="2.4" fill="#8da0cb" />
<circle cx="198.82" cy="388.66" r="2.4" fill="#8da0cb" />
<circle cx="199.40" cy="388.13" r="2.4" fill="#8da0cb" />
<circle cx="199.98" cy="388.50" r="2.4" fill="#8da0cb" />
<circle cx="200.56" cy="388.12" r="2.4" fill="#8da0cb" />
<circle cx="201.15" cy="389.27" r="2.4" fill="#8da0cb" />
<circle cx="201.73" cy="388.98" r="2.4" fill="#8da0cb" />
<circle cx="202.31" cy="388.40" r="2.4" fill="#8da0cb" />
<circle cx="202.89" cy="388.86" r="2.4" fill="#8da0cb" />
<circle cx="203.47" cy="389.60" r="2.4" fill="#8da0cb" />
<circle cx="204.05" cy="388.27" r="2.4" fill="#8da0cb" />
<circle cx="204.63" cy="389.41" r="2.4" fill="#8da0cb" />
<circle cx="205.21" cy="388.79" r="2.4" fill="#8da0cb" />
<circle cx="205.79" cy="388.89" r="2.4" fill="#8da0cb" />
<circle cx="206.37" cy="389.44" r="2.4" fill="#8da0cb" />
<circle cx="206.96" cy="388.73" r="2.4" fill="#8da0cb" />
<circle cx="207.54" cy="388.91" r="2.4" fill="#8da0cb" />
<circle cx="208.12" cy="389.20" r="2.4" fill="#8da0cb" />
<circle cx="208.70" cy="389.67" r="2.4" fill="#8da0cb" />
<circle cx="209.28" cy="388.65" r="2.4" fill="#8da0cb" />
<circle cx="209.86" cy="389.43" r="2.4" fill="#8da0cb" />
<circle cx="210.44" cy="389.23" r="2.4" fill="#8da0cb" />
<circle cx="211.02" cy="389.12" r="2.4" fill="#8da0cb" />
<circle cx="211.60" cy="388.75" r="2.4" fill="#8da0cb" />
<circle cx="212.19" cy="388.66" r="2.4" fill="#8da0cb" />
<circle cx="212.77" cy="388.19" r="2.4" fill="#8da0cb" />
<circle cx="213.35" cy="388.31" r="2.4" fill="#8da0cb" />
<circle cx="213.93" cy="388.21" r="2.4" fill="#8da0cb" />
<circle cx="214.51" cy="389.29" r="2.4" fill="#8da0cb" />
<circle cx="215.09" cy="388.51" r="2.4" fill="#8da0cb" />
<circle cx="215.67" cy="388.36" r="2.4" fill="#8da0cb" />
<circle cx="216.25" cy="388.24" r="2.4" fill="#8da0cb" />
<circle cx="216.83" cy="389.45" r="2.4" fill="#8da0cb" />
<circle cx="217.41" cy="389.49" r="2.4" fill="#8da0cb" />
<circle cx="218.00" cy="389.17" r="2.4" fill="#8da0cb" />
<circle cx="218.58" cy="388.55" r="2.4" fill="#8da0cb" />
<circle cx="219.16" cy="388.49" r="2.4" fill="#8da0cb" />
<circle cx="219.74" cy="388.57" r="2.4" fill="#8da0cb" />
<circle cx="220.32" cy="388.84" r="2.4" fill="#8da0cb" />
<circle cx="220.90" cy="388.35" r="2.4" fill="#8da0cb" />
<circle cx="221.48" cy="388.81" r="2.4" fill="#8da0cb" />
<circle cx="222.06" cy="388.52" r="2.4" fill="#8da0cb" />
<circle cx="222.64" cy="389.64" r="2.4" fill="#8da0cb" />
<circle cx="223.23" cy="389.66" r="2.4" fill="#8da0cb" />
<circle cx="223.81" cy="388.98" r="2.4" fill="#8da0cb" />
<circle cx="224.39" cy="388.49" r="2.4" fill="#8da0cb" />
<circle cx="224.97" cy="389.65" r="2.4" fill="#8da0cb" />
<circle cx="225.55" cy="388.60" r="2.4" fill="#8da0cb" />
<circle cx="226.13" cy="388.67" r="2.4" fill="#8da0cb" />
<circle cx="226.71" cy="388.10" r="2.4" fill="#8da0cb" />
<circle cx="227.29" cy="388.71" r="2.4" fill="#8da0cb" />
<circle cx="227.87" cy="388.86" r="2.4" fill="#8da0cb" />
<circle cx="228.45" cy="388.90" r="2.4" fill="#8da0cb" />
<circle cx="229.04" cy="388.42" r="2.4" fill="#8da0cb" />
<circle cx="229.62" cy="388.91" r="2.4" fill="#8da0cb" />
<circle cx="230.20" cy="388.11" r="2.4" fill="#8da0cb" />
<circle cx="230.78" cy="388.52" r="2.4" fill="#8da0cb" />
<circle cx="231.36" cy="388.24" r="2.4" fill="#8da0cb" />
<circle cx="231.94" cy="388.74" r="2.4" fill="#8da0cb" />
<circle cx="232.52" cy="388.17" r="2.4" fill="#8da0cb" />
<circle cx="233.10" cy="388.14" r="2.4" fill="#8da0cb" />
<circle cx="233.68" cy="388.59" r="2.4" fill="#8da0cb" />
<circle cx="234.27" cy="388.47" r="2.4" fill="#8da0cb" />
<circle cx="234.85" cy="389.04" r="2.4" fill="#8da0cb" />
<circle cx="235.43" cy="388.95" r="2.4" fill="#8da0cb" />
<circle cx="236.01" cy="389.30" r="2.4" fill="#8da0cb" />
<circle cx="236.59" cy="389.15" r="2.4" fill="#8da0cb" />
<circle cx="237.17" cy="389.25" r="2.4" fill="#8da0cb" />
<circle cx="237.75" cy="389.51" r="2.4" fill="#8da0cb" />
<circle cx="238.33" cy="388.72" r="2.4" fill="#8da0cb" />
<circle cx="238.91" cy="388.62" r="2.4" fill="#8da0cb" />
<circle cx="239.49" cy="389.68" r="2.4" fill="#8da0cb" />
<circle cx="240.08" cy="388.34" r="2.4" fill="#8da0cb" />
<circle cx="240.66" cy="389.26" r="2.4" fill="#8da0cb" />
<circle cx="241.24" cy="389.13" r="2.4" fill="#8da0cb" />
<circle cx="241.82" cy="388.17" r="2.4" fill="#8da0cb" />
<circle cx="242.40" cy="389.44" r="2.4" fill="#8da0cb" />
<circle cx="196.70" cy="392.70" r="2.4" fill="#8da0cb" />
<circle cx="200.00" cy="393.20" r="2.4" fill="#8da0cb" />
<circle cx="212.00" cy="395.10" r="2.4" fill="#8da0cb" />
<circle cx="213.50" cy="396.00" r="2.4" fill="#8da0cb" />
<circle cx="224.00" cy="396.50" r="2.4" fill="#8da0cb" />
<circle cx="229.30" cy="396.00" r="2.4" fill="#8da0cb" />
<circle cx="237.40" cy="393.70" r="2.4" fill="#8da0cb" />
<circle cx="205.00" cy="392.00" r="2.4" fill="#8da0cb" />
<circle cx="218.00" cy="392.50" r="2.4" fill="#8da0cb" />
<circle cx="233.00" cy="392.30" r="2.4" fill="#8da0cb" />
<rect x="72.5" y="260.5" width="178.0" height="177.0" fill="none" stroke="#444" stroke-width="1"/>
<line x1="69.50" y1="295.50" x2="72.50" y2="295.50" stroke="#333" stroke-width="1" />
<text x="67.90" y="298.70" font-size="8.4" text-anchor="end" fill="#222" stroke="#222" stroke-width="0.252" >3200</text>
<line x1="69.50" y1="344.40" x2="72.50" y2="344.40" stroke="#333" stroke-width="1" />
<text x="67.90" y="347.60" font-size="8.4" text-anchor="end" fill="#222" stroke="#222" stroke-width="0.252" >3000</text>
<line x1="69.50" y1="393.50" x2="72.50" y2="393.50" stroke="#333" stroke-width="1" />
<text x="67.90" y="396.70" font-size="8.4" text-anchor="end" fill="#222" stroke="#222" stroke-width="0.252" >2800</text>
<line x1="69.50" y1="437.10" x2="72.50" y2="437.10" stroke="#333" stroke-width="1" />
<text x="67.90" y="440.30" font-size="8.4" text-anchor="end" fill="#222" stroke="#222" stroke-width="0.252" >2600</text>
<line x1="79.60" y1="437.50" x2="79.60" y2="440.50" stroke="#333" stroke-width="1" />
<text x="79.60" y="449.70" font-size="8.4" text-anchor="middle" fill="#222" stroke="#222" stroke-width="0.252" >0</text>
<line x1="138.30" y1="437.50" x2="138.30" y2="440.50" stroke="#333" stroke-width="1" />
<text x="138.30" y="449.70" font-size="8.4" text-anchor="middle" fill="#222" stroke="#222" stroke-width="0.252" >100</text>
<line x1="196.80" y1="437.50" x2="196.80" y2="440.50" stroke="#333" stroke-width="1" />
<text x="196.80" y="449.70" font-size="8.4" text-anchor="middle" fill="#222" stroke="#222" stroke-width="0.252" >200</text>
<text x="165.00" y="463.50" font-size="9" text-anchor="middle" fill="#000" stroke="#000" stroke-width="0.27" >Samples numbers</text>
<text x="0" y="0" font-size="9" text-anchor="middle" transform="translate(41.5 359.5) rotate(-90)">Number of quantifiable proteins</text>
<text x="254.90" y="403.80" font-size="7.2" text-anchor="start" fill="#000" stroke="#000" stroke-width="0.216" >Groups</text>
<circle cx="260.30" cy="410.50" r="1.8" fill="#66c2a5" />
<text x="265.00" y="412.80" font-size="6.8" text-anchor="start" fill="#000" stroke="#000" stroke-width="0.204" >sEVs</text>
<circle cx="260.30" cy="422.30" r="1.8" fill="#fc8d62" />
<text x="265.00" y="424.60" font-size="6.8" text-anchor="start" fill="#000" stroke="#000" stroke-width="0.204" >lEVs</text>
<circle cx="260.30" cy="433.90" r="1.8" fill="#8da0cb" />
<text x="265.00" y="436.20" font-size="6.8" text-anchor="start" fill="#000" stroke="#000" stroke-width="0.204" >plasma</text>
<line x1="642.00" y1="279.50" x2="642.00" y2="415.50" stroke="#f2f2f2" stroke-width="0.6" />
<line x1="662.00" y1="279.50" x2="662.00" y2="415.50" stroke="#f2f2f2" stroke-width="0.6" />
<line x1="682.00" y1="279.50" x2="682.00" y2="415.50" stroke="#f2f2f2" stroke-width="0.6" />
<line x1="702.00" y1="279.50" x2="702.00" y2="415.50" stroke="#f2f2f2" stroke-width="0.6" />
<line x1="722.00" y1="279.50" x2="722.00" y2="415.50" stroke="#f2f2f2" stroke-width="0.6" />
<line x1="632.00" y1="279.50" x2="632.00" y2="415.50" stroke="#e4e4e4" stroke-width="0.8" />
<line x1="652.00" y1="279.50" x2="652.00" y2="415.50" stroke="#e4e4e4" stroke-width="0.8" />
<line x1="672.00" y1="279.50" x2="672.00" y2="415.50" stroke="#e4e4e4" stroke-width="0.8" />
<line x1="692.00" y1="279.50" x2="692.00" y2="415.50" stroke="#e4e4e4" stroke-width="0.8" />
<line x1="712.00" y1="279.50" x2="712.00" y2="415.50" stroke="#e4e4e4" stroke-width="0.8" />
<line x1="628.50" y1="285.85" x2="727.50" y2="285.85" stroke="#e4e4e4" stroke-width="0.8" />
<rect x="632.00" y="281.00" width="23.94" height="9.70" fill="#e4472f" />
<line x1="626.20" y1="285.85" x2="628.50" y2="285.85" stroke="#333" stroke-width="0.8" />
<text x="622.50" y="288.75" font-size="9.36" text-anchor="end" fill="#111" stroke="#111" stroke-width="0.281" >Aminoacyl-tRNA synthetase multienzyme complex</text>
<line x1="628.50" y1="297.03" x2="727.50" y2="297.03" stroke="#e4e4e4" stroke-width="0.8" />
<rect x="632.00" y="292.18" width="51.87" height="9.70" fill="#e07564" />
<line x1="626.20" y1="297.03" x2="628.50" y2="297.03" stroke="#333" stroke-width="0.8" />
<text x="622.50" y="299.93" font-size="9.36" text-anchor="end" fill="#111" stroke="#111" stroke-width="0.281" >Early endosome</text>
<line x1="628.50" y1="308.21" x2="727.50" y2="308.21" stroke="#e4e4e4" stroke-width="0.8" />
<rect x="632.00" y="303.36" width="55.86" height="9.70" fill="#e07867" />
<line x1="626.20" y1="308.21" x2="628.50" y2="308.21" stroke="#333" stroke-width="0.8" />
<text x="622.50" y="311.11" font-size="9.36" text-anchor="end" fill="#111" stroke="#111" stroke-width="0.281" >Endosome membrane</text>
<line x1="628.50" y1="319.39" x2="727.50" y2="319.39" stroke="#e4e4e4" stroke-width="0.8" />
<rect x="632.00" y="314.54" width="51.87" height="9.70" fill="#e07a6a" />
<line x1="626.20" y1="319.39" x2="628.50" y2="319.39" stroke="#333" stroke-width="0.8" />
<text x="622.50" y="322.29" font-size="9.36" text-anchor="end" fill="#111" stroke="#111" stroke-width="0.281" >Mitochondrial matrix</text>
<line x1="628.50" y1="330.57" x2="727.50" y2="330.57" stroke="#e4e4e4" stroke-width="0.8" />
<rect x="632.00" y="325.72" width="63.84" height="9.70" fill="#e07d6e" />
<line x1="626.20" y1="330.57" x2="628.50" y2="330.57" stroke="#333" stroke-width="0.8" />
<text x="622.50" y="333.47" font-size="9.36" text-anchor="end" fill="#111" stroke="#111" stroke-width="0.281" >Intracellular protein-containing complex</text>
<line x1="628.50" y1="341.75" x2="727.50" y2="341.75" stroke="#e4e4e4" stroke-width="0.8" />
<rect x="632.00" y="336.90" width="27.93" height="9.70" fill="#df8479" />
<line x1="626.20" y1="341.75" x2="628.50" y2="341.75" stroke="#333" stroke-width="0.8" />
<text x="622.50" y="344.65" font-size="9.36" text-anchor="end" fill="#111" stroke="#111" stroke-width="0.281" >TRAPP complex</text>
<line x1="628.50" y1="352.93" x2="727.50" y2="352.93" stroke="#e4e4e4" stroke-width="0.8" />
<rect x="632.00" y="348.08" width="43.89" height="9.70" fill="#df877c" />
<line x1="626.20" y1="352.93" x2="628.50" y2="352.93" stroke="#333" stroke-width="0.8" />
<text x="622.50" y="355.83" font-size="9.36" text-anchor="end" fill="#111" stroke="#111" stroke-width="0.281" >Nuclear pore</text>
<line x1="628.50" y1="364.11" x2="727.50" y2="364.11" stroke="#e4e4e4" stroke-width="0.8" />
<rect x="632.00" y="359.26" width="71.82" height="9.70" fill="#df8a80" />
<line x1="626.20" y1="364.11" x2="628.50" y2="364.11" stroke="#333" stroke-width="0.8" />
<text x="622.50" y="367.01" font-size="9.36" text-anchor="end" fill="#111" stroke="#111" stroke-width="0.281" >Integral component of mitochondrial inner membrane</text>
<line x1="628.50" y1="375.29" x2="727.50" y2="375.29" stroke="#e4e4e4" stroke-width="0.8" />
<rect x="632.00" y="370.44" width="59.85" height="9.70" fill="#df8d83" />
<line x1="626.20" y1="375.29" x2="628.50" y2="375.29" stroke="#333" stroke-width="0.8" />
<text x="622.50" y="378.19" font-size="9.36" text-anchor="end" fill="#111" stroke="#111" stroke-width="0.281" >Late endosome</text>
<line x1="628.50" y1="386.47" x2="727.50" y2="386.47" stroke="#e4e4e4" stroke-width="0.8" />
<rect x="632.00" y="381.62" width="35.91" height="9.70" fill="#df9087" />
<line x1="626.20" y1="386.47" x2="628.50" y2="386.47" stroke="#333" stroke-width="0.8" />
<text x="622.50" y="389.37" font-size="9.36" text-anchor="end" fill="#111" stroke="#111" stroke-width="0.281" >Transport vesicle</text>
<line x1="628.50" y1="397.65" x2="727.50" y2="397.65" stroke="#e4e4e4" stroke-width="0.8" />
<rect x="632.00" y="392.80" width="19.95" height="9.70" fill="#e0958c" />
<line x1="626.20" y1="397.65" x2="628.50" y2="397.65" stroke="#333" stroke-width="0.8" />
<text x="622.50" y="400.55" font-size="9.36" text-anchor="end" fill="#111" stroke="#111" stroke-width="0.281" >Spindle pole</text>
<line x1="628.50" y1="408.83" x2="727.50" y2="408.83" stroke="#e4e4e4" stroke-width="0.8" />
<rect x="632.00" y="403.98" width="31.92" height="9.70" fill="#e09890" />
<line x1="626.20" y1="408.83" x2="628.50" y2="408.83" stroke="#333" stroke-width="0.8" />
<text x="622.50" y="411.73" font-size="9.36" text-anchor="end" fill="#111" stroke="#111" stroke-width="0.281" >Nuclear speck</text>
<rect x="628.5" y="279.5" width="99.0" height="136.0" fill="none" stroke="#595959" stroke-width="1"/>
<line x1="632.00" y1="415.50" x2="632.00" y2="418.00" stroke="#333" stroke-width="0.8" />
<text x="632.00" y="426.90" font-size="9.6" text-anchor="middle" fill="#222" stroke="#222" stroke-width="0.288" >0</text>
<line x1="651.95" y1="415.50" x2="651.95" y2="418.00" stroke="#333" stroke-width="0.8" />
<text x="651.95" y="426.90" font-size="9.6" text-anchor="middle" fill="#222" stroke="#222" stroke-width="0.288" >5</text>
<line x1="671.90" y1="415.50" x2="671.90" y2="418.00" stroke="#333" stroke-width="0.8" />
<text x="671.90" y="426.90" font-size="9.6" text-anchor="middle" fill="#222" stroke="#222" stroke-width="0.288" >10</text>
<line x1="691.85" y1="415.50" x2="691.85" y2="418.00" stroke="#333" stroke-width="0.8" />
<text x="691.85" y="426.90" font-size="9.6" text-anchor="middle" fill="#222" stroke="#222" stroke-width="0.288" >15</text>
<line x1="711.80" y1="415.50" x2="711.80" y2="418.00" stroke="#333" stroke-width="0.8" />
<text x="709.60" y="426.90" font-size="9.6" text-anchor="middle" fill="#222" stroke="#222" stroke-width="0.288" >20</text>
<text x="673.40" y="437.50" font-size="9" text-anchor="middle" fill="#000" stroke="#000" stroke-width="0.27" >Count</text>
<text x="734.00" y="330.90" font-size="5.8" text-anchor="start" fill="#000" stroke="#000" stroke-width="0.174" >Groups</text>
<rect x="736.90" y="335.20" width="10.00" height="8.60" fill="#e34a33" />
<text x="750.00" y="342.40" font-size="5.8" text-anchor="start" fill="#000" stroke="#000" stroke-width="0.174" >sEVs</text>
<rect x="736.90" y="348.50" width="10.00" height="8.20" fill="#45b4d8" />
<text x="750.60" y="355.50" font-size="5.8" text-anchor="start" fill="#000" stroke="#000" stroke-width="0.174" >lEVs</text>
<text x="736.00" y="370.70" font-size="5.9" text-anchor="start" fill="#000" stroke="#000" stroke-width="0.177" >-log10 (LogP)</text>
<rect x="736.20" y="373.80" width="8.60" height="40.80" fill="url(#cb1)" />
<line x1="736.20" y1="375.40" x2="737.90" y2="375.40" stroke="#fff" stroke-width="0.7" />
<line x1="743.10" y1="375.40" x2="744.80" y2="375.40" stroke="#fff" stroke-width="0.7" />
<text x="747.30" y="376.90" font-size="4.2" text-anchor="start" fill="#222" stroke="#222" stroke-width="0.126" >10</text>
<line x1="736.20" y1="385.90" x2="737.90" y2="385.90" stroke="#fff" stroke-width="0.7" />
<line x1="743.10" y1="385.90" x2="744.80" y2="385.90" stroke="#fff" stroke-width="0.7" />
<text x="747.30" y="387.40" font-size="4.2" text-anchor="start" fill="#222" stroke="#222" stroke-width="0.126" >8</text>
<line x1="736.20" y1="395.50" x2="737.90" y2="395.50" stroke="#fff" stroke-width="0.7" />
<line x1="743.10" y1="395.50" x2="744.80" y2="395.50" stroke="#fff" stroke-width="0.7" />
<text x="747.30" y="397.00" font-size="4.2" text-anchor="start" fill="#222" stroke="#222" stroke-width="0.126" >6</text>
<line x1="736.20" y1="405.40" x2="737.90" y2="405.40" stroke="#fff" stroke-width="0.7" />
<line x1="743.10" y1="405.40" x2="744.80" y2="405.40" stroke="#fff" stroke-width="0.7" />
<text x="747.30" y="406.90" font-size="4.2" text-anchor="start" fill="#222" stroke="#222" stroke-width="0.126" >4</text>
<line x1="641.44" y1="500.50" x2="641.44" y2="637.50" stroke="#f2f2f2" stroke-width="0.6" />
<line x1="655.91" y1="500.50" x2="655.91" y2="637.50" stroke="#f2f2f2" stroke-width="0.6" />
<line x1="670.38" y1="500.50" x2="670.38" y2="637.50" stroke="#f2f2f2" stroke-width="0.6" />
<line x1="684.85" y1="500.50" x2="684.85" y2="637.50" stroke="#f2f2f2" stroke-width="0.6" />
<line x1="699.32" y1="500.50" x2="699.32" y2="637.50" stroke="#f2f2f2" stroke-width="0.6" />
<line x1="713.79" y1="500.50" x2="713.79" y2="637.50" stroke="#f2f2f2" stroke-width="0.6" />
<line x1="728.26" y1="500.50" x2="728.26" y2="637.50" stroke="#f2f2f2" stroke-width="0.6" />
<line x1="634.20" y1="500.50" x2="634.20" y2="637.50" stroke="#e4e4e4" stroke-width="0.8" />
<line x1="648.67" y1="500.50" x2="648.67" y2="637.50" stroke="#e4e4e4" stroke-width="0.8" />
<line x1="663.14" y1="500.50" x2="663.14" y2="637.50" stroke="#e4e4e4" stroke-width="0.8" />
<line x1="677.61" y1="500.50" x2="677.61" y2="637.50" stroke="#e4e4e4" stroke-width="0.8" />
<line x1="692.08" y1="500.50" x2="692.08" y2="637.50" stroke="#e4e4e4" stroke-width="0.8" />
<line x1="706.55" y1="500.50" x2="706.55" y2="637.50" stroke="#e4e4e4" stroke-width="0.8" />
<line x1="721.02" y1="500.50" x2="721.02" y2="637.50" stroke="#e4e4e4" stroke-width="0.8" />
<line x1="630.50" y1="508.05" x2="735.50" y2="508.05" stroke="#e4e4e4" stroke-width="0.8" />
<rect x="634.20" y="503.30" width="13.02" height="9.50" fill="#41b1d9" />
<line x1="628.40" y1="508.05" x2="630.50" y2="508.05" stroke="#333" stroke-width="0.8" />
<text x="625.40" y="510.55" font-size="9.4" text-anchor="end" fill="#111" stroke="#111" stroke-width="0.282" >Aminoacyl-tRNA synthetase multienzyme complex</text>
<line x1="630.50" y1="519.27" x2="735.50" y2="519.27" stroke="#e4e4e4" stroke-width="0.8" />
<rect x="634.20" y="514.52" width="73.80" height="9.50" fill="#6dbcd2" />
<line x1="628.40" y1="519.27" x2="630.50" y2="519.27" stroke="#333" stroke-width="0.8" />
<text x="625.40" y="521.77" font-size="9.4" text-anchor="end" fill="#111" stroke="#111" stroke-width="0.282" >Mitochondrial protein-containing complex</text>
<line x1="630.50" y1="530.49" x2="735.50" y2="530.49" stroke="#e4e4e4" stroke-width="0.8" />
<rect x="634.20" y="525.74" width="40.52" height="9.50" fill="#75bdd0" />
<line x1="628.40" y1="530.49" x2="630.50" y2="530.49" stroke="#333" stroke-width="0.8" />
<text x="625.40" y="532.99" font-size="9.4" text-anchor="end" fill="#111" stroke="#111" stroke-width="0.282" >Mitochondrial matrix</text>
<line x1="630.50" y1="541.71" x2="735.50" y2="541.71" stroke="#e4e4e4" stroke-width="0.8" />
<rect x="634.20" y="536.96" width="39.07" height="9.50" fill="#7cbed0" />
<line x1="628.40" y1="541.71" x2="630.50" y2="541.71" stroke="#333" stroke-width="0.8" />
<text x="625.40" y="544.21" font-size="9.4" text-anchor="end" fill="#111" stroke="#111" stroke-width="0.282" >Coated vesicle</text>
<line x1="630.50" y1="552.93" x2="735.50" y2="552.93" stroke="#e4e4e4" stroke-width="0.8" />
<rect x="634.20" y="548.18" width="33.28" height="9.50" fill="#84c0cf" />
<line x1="628.40" y1="552.93" x2="630.50" y2="552.93" stroke="#333" stroke-width="0.8" />
<text x="625.40" y="555.43" font-size="9.4" text-anchor="end" fill="#111" stroke="#111" stroke-width="0.282" >Intrinsic component of organelle membrane</text>
<line x1="630.50" y1="564.15" x2="735.50" y2="564.15" stroke="#e4e4e4" stroke-width="0.8" />
<rect x="634.20" y="559.40" width="66.56" height="9.50" fill="#8cc2cf" />
<line x1="628.40" y1="564.15" x2="630.50" y2="564.15" stroke="#333" stroke-width="0.8" />
<text x="625.40" y="566.65" font-size="9.4" text-anchor="end" fill="#111" stroke="#111" stroke-width="0.282" >Lytic vacuole</text>
<line x1="630.50" y1="575.37" x2="735.50" y2="575.37" stroke="#e4e4e4" stroke-width="0.8" />
<rect x="634.20" y="570.62" width="37.62" height="9.50" fill="#92c4d0" />
<line x1="628.40" y1="575.37" x2="630.50" y2="575.37" stroke="#333" stroke-width="0.8" />
<text x="625.40" y="577.87" font-size="9.4" text-anchor="end" fill="#111" stroke="#111" stroke-width="0.282" >Golgi membrane</text>
<line x1="630.50" y1="586.59" x2="735.50" y2="586.59" stroke="#e4e4e4" stroke-width="0.8" />
<rect x="634.20" y="581.84" width="14.47" height="9.50" fill="#97c6d1" />
<line x1="628.40" y1="586.59" x2="630.50" y2="586.59" stroke="#333" stroke-width="0.8" />
<text x="625.40" y="589.09" font-size="9.4" text-anchor="end" fill="#111" stroke="#111" stroke-width="0.282" >Peroxisomal membrane</text>
<line x1="630.50" y1="597.81" x2="735.50" y2="597.81" stroke="#e4e4e4" stroke-width="0.8" />
<rect x="634.20" y="593.06" width="40.52" height="9.50" fill="#9cc8d2" />
<line x1="628.40" y1="597.81" x2="630.50" y2="597.81" stroke="#333" stroke-width="0.8" />
<text x="625.40" y="600.31" font-size="9.4" text-anchor="end" fill="#111" stroke="#111" stroke-width="0.282" >Ribonucleoprotein complex</text>
<line x1="630.50" y1="609.03" x2="735.50" y2="609.03" stroke="#e4e4e4" stroke-width="0.8" />
<rect x="634.20" y="604.28" width="13.02" height="9.50" fill="#a0cad3" />
<line x1="628.40" y1="609.03" x2="630.50" y2="609.03" stroke="#333" stroke-width="0.8" />
<text x="625.40" y="611.53" font-size="9.4" text-anchor="end" fill="#111" stroke="#111" stroke-width="0.282" >Endoplasmic reticulum-Golgi intermediate compartment membrane</text>
<line x1="630.50" y1="620.25" x2="735.50" y2="620.25" stroke="#e4e4e4" stroke-width="0.8" />
<rect x="634.20" y="615.50" width="4.34" height="9.50" fill="#a4cbd4" />
<line x1="628.40" y1="620.25" x2="630.50" y2="620.25" stroke="#333" stroke-width="0.8" />
<text x="625.40" y="622.75" font-size="9.4" text-anchor="end" fill="#111" stroke="#111" stroke-width="0.282" >Mon1-Ccz1 complex</text>
<line x1="630.50" y1="631.47" x2="735.50" y2="631.47" stroke="#e4e4e4" stroke-width="0.8" />
<rect x="634.20" y="626.72" width="31.83" height="9.50" fill="#a7cdd5" />
<line x1="628.40" y1="631.47" x2="630.50" y2="631.47" stroke="#333" stroke-width="0.8" />
<text x="625.40" y="633.97" font-size="9.4" text-anchor="end" fill="#111" stroke="#111" stroke-width="0.282" >Golgi apparatus subcompartment</text>
<rect x="630.5" y="500.5" width="105.0" height="137.0" fill="none" stroke="#595959" stroke-width="1"/>
<line x1="634.20" y1="637.50" x2="634.20" y2="640.00" stroke="#333" stroke-width="0.8" />
<text x="634.20" y="649.30" font-size="9.6" text-anchor="middle" fill="#222" stroke="#222" stroke-width="0.288" >0</text>
<line x1="648.67" y1="637.50" x2="648.67" y2="640.00" stroke="#333" stroke-width="0.8" />
<text x="648.67" y="649.30" font-size="9.6" text-anchor="middle" fill="#222" stroke="#222" stroke-width="0.288" >10</text>
<line x1="663.14" y1="637.50" x2="663.14" y2="640.00" stroke="#333" stroke-width="0.8" />
<text x="663.14" y="649.30" font-size="9.6" text-anchor="middle" fill="#222" stroke="#222" stroke-width="0.288" >20</text>
<line x1="677.61" y1="637.50" x2="677.61" y2="640.00" stroke="#333" stroke-width="0.8" />
<text x="677.61" y="649.30" font-size="9.6" text-anchor="middle" fill="#222" stroke="#222" stroke-width="0.288" >30</text>
<line x1="692.08" y1="637.50" x2="692.08" y2="640.00" stroke="#333" stroke-width="0.8" />
<text x="692.08" y="649.30" font-size="9.6" text-anchor="middle" fill="#222" stroke="#222" stroke-width="0.288" >40</text>
<line x1="706.55" y1="637.50" x2="706.55" y2="640.00" stroke="#333" stroke-width="0.8" />
<text x="706.55" y="649.30" font-size="9.6" text-anchor="middle" fill="#222" stroke="#222" stroke-width="0.288" >50</text>
<line x1="721.02" y1="637.50" x2="721.02" y2="640.00" stroke="#333" stroke-width="0.8" />
<text x="721.02" y="649.30" font-size="9.6" text-anchor="middle" fill="#222" stroke="#222" stroke-width="0.288" >60</text>
<text x="679.90" y="660.80" font-size="9" text-anchor="middle" fill="#000" stroke="#000" stroke-width="0.27" >Count</text>
<text x="743.60" y="592.90" font-size="5.9" text-anchor="start" fill="#000" stroke="#000" stroke-width="0.177" >-log10 (Pvalue)</text>
<rect x="744.00" y="596.00" width="7.90" height="41.00" fill="url(#cb2)" />
<line x1="744.00" y1="605.90" x2="745.60" y2="605.90" stroke="#fff" stroke-width="0.7" />
<line x1="750.30" y1="605.90" x2="751.90" y2="605.90" stroke="#fff" stroke-width="0.7" />
<text x="754.30" y="607.40" font-size="4.4" text-anchor="start" fill="#222" stroke="#222" stroke-width="0.132" >12.5</text>
<line x1="744.00" y1="615.50" x2="745.60" y2="615.50" stroke="#fff" stroke-width="0.7" />
<line x1="750.30" y1="615.50" x2="751.90" y2="615.50" stroke="#fff" stroke-width="0.7" />
<text x="754.30" y="617.00" font-size="4.4" text-anchor="start" fill="#222" stroke="#222" stroke-width="0.132" >10.0</text>
<line x1="744.00" y1="625.40" x2="745.60" y2="625.40" stroke="#fff" stroke-width="0.7" />
<line x1="750.30" y1="625.40" x2="751.90" y2="625.40" stroke="#fff" stroke-width="0.7" />
<text x="754.30" y="626.90" font-size="4.4" text-anchor="start" fill="#222" stroke="#222" stroke-width="0.132" >7.5</text>
<line x1="744.00" y1="634.30" x2="745.60" y2="634.30" stroke="#fff" stroke-width="0.7" />
<line x1="750.30" y1="634.30" x2="751.90" y2="634.30" stroke="#fff" stroke-width="0.7" />
<text x="754.30" y="635.80" font-size="4.4" text-anchor="start" fill="#222" stroke="#222" stroke-width="0.132" >5.0</text>
<line x1="98.90" y1="484.50" x2="98.90" y2="659.50" stroke="#f3f3f3" stroke-width="0.6" />
<line x1="143.90" y1="484.50" x2="143.90" y2="659.50" stroke="#f3f3f3" stroke-width="0.6" />
<line x1="188.90" y1="484.50" x2="188.90" y2="659.50" stroke="#f3f3f3" stroke-width="0.6" />
<line x1="233.90" y1="484.50" x2="233.90" y2="659.50" stroke="#f3f3f3" stroke-width="0.6" />
<line x1="72.50" y1="493.33" x2="252.50" y2="493.33" stroke="#f3f3f3" stroke-width="0.6" />
<line x1="72.50" y1="521.08" x2="252.50" y2="521.08" stroke="#f3f3f3" stroke-width="0.6" />
<line x1="72.50" y1="548.83" x2="252.50" y2="548.83" stroke="#f3f3f3" stroke-width="0.6" />
<line x1="72.50" y1="576.58" x2="252.50" y2="576.58" stroke="#f3f3f3" stroke-width="0.6" />
<line x1="72.50" y1="604.33" x2="252.50" y2="604.33" stroke="#f3f3f3" stroke-width="0.6" />
<line x1="72.50" y1="632.08" x2="252.50" y2="632.08" stroke="#f3f3f3" stroke-width="0.6" />
<line x1="76.40" y1="484.50" x2="76.40" y2="659.50" stroke="#e6e6e6" stroke-width="0.8" />
<line x1="121.40" y1="484.50" x2="121.40" y2="659.50" stroke="#e6e6e6" stroke-width="0.8" />
<line x1="211.40" y1="484.50" x2="211.40" y2="659.50" stroke="#e6e6e6" stroke-width="0.8" />
<line x1="72.50" y1="507.20" x2="252.50" y2="507.20" stroke="#e6e6e6" stroke-width="0.8" />
<line x1="72.50" y1="534.95" x2="252.50" y2="534.95" stroke="#e6e6e6" stroke-width="0.8" />
<line x1="72.50" y1="590.45" x2="252.50" y2="590.45" stroke="#e6e6e6" stroke-width="0.8" />
<line x1="72.50" y1="618.20" x2="252.50" y2="618.20" stroke="#e6e6e6" stroke-width="0.8" />
<line x1="72.50" y1="645.95" x2="252.50" y2="645.95" stroke="#e6e6e6" stroke-width="0.8" />
<line x1="166.40" y1="484.50" x2="166.40" y2="659.50" stroke="#999" stroke-width="0.8" stroke-dasharray="3,2"/>
<line x1="72.50" y1="562.70" x2="252.50" y2="562.70" stroke="#999" stroke-width="0.8" stroke-dasharray="3,2"/>
<ellipse cx="102.2" cy="516.4" rx="32.7" ry="8.3" transform="rotate(46.5 102.2 516.4)" fill="#fc8d62" fill-opacity="0.1" stroke="#fc8d62" stroke-width="0.9"/>
<circle cx="105.70" cy="517.29" r="1.1" fill="#fc8d62" />
<circle cx="99.29" cy="507.50" r="1.1" fill="#fc8d62" />
<circle cx="100.82" cy="518.03" r="1.1" fill="#fc8d62" />
<circle cx="85.89" cy="499.09" r="1.1" fill="#fc8d62" />
<circle cx="104.25" cy="512.91" r="1.1" fill="#fc8d62" />
<circle cx="88.72" cy="499.09" r="1.1" fill="#fc8d62" />
<circle cx="95.87" cy="505.24" r="1.1" fill="#fc8d62" />
<circle cx="97.29" cy="512.09" r="1.1" fill="#fc8d62" />
<circle cx="100.29" cy="516.72" r="1.1" fill="#fc8d62" />
<circle cx="104.93" cy="523.10" r="1.1" fill="#fc8d62" />
<circle cx="90.19" cy="502.16" r="1.1" fill="#fc8d62" />
<circle cx="92.67" cy="502.93" r="1.1" fill="#fc8d62" />
<circle cx="96.99" cy="510.98" r="1.1" fill="#fc8d62" />
<circle cx="103.10" cy="512.27" r="1.1" fill="#fc8d62" />
<circle cx="89.87" cy="503.38" r="1.1" fill="#fc8d62" />
<circle cx="96.77" cy="509.72" r="1.1" fill="#fc8d62" />
<circle cx="98.34" cy="509.92" r="1.1" fill="#fc8d62" />
<circle cx="101.27" cy="516.62" r="1.1" fill="#fc8d62" />
<circle cx="98.04" cy="509.90" r="1.1" fill="#fc8d62" />
<circle cx="100.05" cy="507.42" r="1.1" fill="#fc8d62" />
<circle cx="91.36" cy="505.15" r="1.1" fill="#fc8d62" />
<circle cx="87.86" cy="501.99" r="1.1" fill="#fc8d62" />
<circle cx="100.64" cy="510.35" r="1.1" fill="#fc8d62" />
<circle cx="96.45" cy="509.38" r="1.1" fill="#fc8d62" />
<circle cx="99.36" cy="515.44" r="1.1" fill="#fc8d62" />
<circle cx="98.65" cy="509.96" r="1.1" fill="#fc8d62" />
<circle cx="96.71" cy="510.46" r="1.1" fill="#fc8d62" />
<circle cx="101.57" cy="516.75" r="1.1" fill="#fc8d62" />
<circle cx="95.21" cy="504.71" r="1.1" fill="#fc8d62" />
<circle cx="96.38" cy="507.93" r="1.1" fill="#fc8d62" />
<circle cx="90.80" cy="504.06" r="1.1" fill="#fc8d62" />
<circle cx="94.29" cy="508.46" r="1.1" fill="#fc8d62" />
<circle cx="101.41" cy="514.28" r="1.1" fill="#fc8d62" />
<circle cx="109.53" cy="523.34" r="1.1" fill="#fc8d62" />
<circle cx="104.13" cy="518.88" r="1.1" fill="#fc8d62" />
<circle cx="105.92" cy="514.35" r="1.1" fill="#fc8d62" />
<circle cx="92.45" cy="506.97" r="1.1" fill="#fc8d62" />
<circle cx="97.46" cy="517.99" r="1.1" fill="#fc8d62" />
<circle cx="97.43" cy="515.57" r="1.1" fill="#fc8d62" />
<circle cx="100.72" cy="517.96" r="1.1" fill="#fc8d62" />
<circle cx="100.91" cy="514.59" r="1.1" fill="#fc8d62" />
<circle cx="102.40" cy="513.17" r="1.1" fill="#fc8d62" />
<circle cx="106.46" cy="517.65" r="1.1" fill="#fc8d62" />
<circle cx="95.65" cy="516.29" r="1.1" fill="#fc8d62" />
<circle cx="96.08" cy="510.07" r="1.1" fill="#fc8d62" />
<circle cx="104.66" cy="519.13" r="1.1" fill="#fc8d62" />
<circle cx="92.08" cy="506.62" r="1.1" fill="#fc8d62" />
<circle cx="99.96" cy="516.39" r="1.1" fill="#fc8d62" />
<circle cx="89.88" cy="509.14" r="1.1" fill="#fc8d62" />
<circle cx="107.80" cy="522.41" r="1.1" fill="#fc8d62" />
<circle cx="99.86" cy="512.60" r="1.1" fill="#fc8d62" />
<circle cx="107.40" cy="519.65" r="1.1" fill="#fc8d62" />
<circle cx="102.45" cy="515.17" r="1.1" fill="#fc8d62" />
<circle cx="92.04" cy="508.07" r="1.1" fill="#fc8d62" />
<circle cx="105.78" cy="520.19" r="1.1" fill="#fc8d62" />
<circle cx="91.99" cy="508.32" r="1.1" fill="#fc8d62" />
<circle cx="96.69" cy="511.65" r="1.1" fill="#fc8d62" />
<circle cx="105.11" cy="523.18" r="1.1" fill="#fc8d62" />
<circle cx="91.34" cy="511.60" r="1.1" fill="#fc8d62" />
<circle cx="96.25" cy="512.73" r="1.1" fill="#fc8d62" />
<circle cx="93.56" cy="507.21" r="1.1" fill="#fc8d62" />
<circle cx="86.59" cy="504.60" r="1.1" fill="#fc8d62" />
<circle cx="107.92" cy="518.55" r="1.1" fill="#fc8d62" />
<circle cx="91.46" cy="500.41" r="1.1" fill="#fc8d62" />
<circle cx="105.53" cy="518.47" r="1.1" fill="#fc8d62" />
<circle cx="97.63" cy="510.63" r="1.1" fill="#fc8d62" />
<circle cx="98.51" cy="509.04" r="1.1" fill="#fc8d62" />
<circle cx="99.97" cy="509.45" r="1.1" fill="#fc8d62" />
<circle cx="96.56" cy="511.51" r="1.1" fill="#fc8d62" />
<circle cx="100.77" cy="514.20" r="1.1" fill="#fc8d62" />
<circle cx="91.64" cy="505.84" r="1.1" fill="#fc8d62" />
<circle cx="91.97" cy="510.74" r="1.1" fill="#fc8d62" />
<circle cx="102.44" cy="516.34" r="1.1" fill="#fc8d62" />
<circle cx="95.72" cy="507.35" r="1.1" fill="#fc8d62" />
<circle cx="92.26" cy="504.84" r="1.1" fill="#fc8d62" />
<circle cx="98.49" cy="514.21" r="1.1" fill="#fc8d62" />
<circle cx="97.63" cy="518.14" r="1.1" fill="#fc8d62" />
<circle cx="93.11" cy="506.92" r="1.1" fill="#fc8d62" />
<circle cx="109.28" cy="520.41" r="1.1" fill="#fc8d62" />
<circle cx="94.00" cy="508.36" r="1.1" fill="#fc8d62" />
<circle cx="112.05" cy="528.49" r="1.1" fill="#fc8d62" />
<circle cx="110.17" cy="526.37" r="1.1" fill="#fc8d62" />
<circle cx="110.90" cy="528.57" r="1.1" fill="#fc8d62" />
<circle cx="106.60" cy="519.16" r="1.1" fill="#fc8d62" />
<circle cx="113.81" cy="525.26" r="1.1" fill="#fc8d62" />
<circle cx="105.72" cy="522.59" r="1.1" fill="#fc8d62" />
<circle cx="107.66" cy="524.67" r="1.1" fill="#fc8d62" />
<circle cx="115.16" cy="531.41" r="1.1" fill="#fc8d62" />
<circle cx="114.70" cy="529.48" r="1.1" fill="#fc8d62" />
<circle cx="105.07" cy="519.59" r="1.1" fill="#fc8d62" />
<circle cx="115.18" cy="528.49" r="1.1" fill="#fc8d62" />
<circle cx="110.19" cy="527.73" r="1.1" fill="#fc8d62" />
<circle cx="106.52" cy="523.48" r="1.1" fill="#fc8d62" />
<circle cx="119.50" cy="533.47" r="1.1" fill="#fc8d62" />
<circle cx="112.99" cy="527.51" r="1.1" fill="#fc8d62" />
<ellipse cx="155.1" cy="635.1" rx="24.8" ry="7.3" transform="rotate(40.4 155.1 635.1)" fill="#66c2a5" fill-opacity="0.1" stroke="#66c2a5" stroke-width="0.9"/>
<rect x="165.00" y="643.73" width="2.00" height="2.00" fill="#66c2a5" />
<rect x="163.02" y="639.36" width="2.00" height="2.00" fill="#66c2a5" />
<rect x="157.43" y="636.41" width="2.00" height="2.00" fill="#66c2a5" />
<rect x="148.03" y="631.73" width="2.00" height="2.00" fill="#66c2a5" />
<rect x="164.42" y="637.74" width="2.00" height="2.00" fill="#66c2a5" />
<rect x="161.50" y="639.55" width="2.00" height="2.00" fill="#66c2a5" />
<rect x="159.32" y="639.03" width="2.00" height="2.00" fill="#66c2a5" />
<rect x="150.07" y="629.62" width="2.00" height="2.00" fill="#66c2a5" />
<rect x="165.93" y="642.14" width="2.00" height="2.00" fill="#66c2a5" />
<rect x="154.03" y="629.93" width="2.00" height="2.00" fill="#66c2a5" />
<rect x="150.78" y="631.68" width="2.00" height="2.00" fill="#66c2a5" />
<rect x="165.64" y="644.57" width="2.00" height="2.00" fill="#66c2a5" />
<rect x="155.94" y="640.71" width="2.00" height="2.00" fill="#66c2a5" />
<rect x="155.71" y="633.19" width="2.00" height="2.00" fill="#66c2a5" />
<rect x="159.50" y="639.66" width="2.00" height="2.00" fill="#66c2a5" />
<rect x="153.82" y="630.26" width="2.00" height="2.00" fill="#66c2a5" />
<rect x="158.67" y="638.15" width="2.00" height="2.00" fill="#66c2a5" />
<rect x="151.05" y="630.47" width="2.00" height="2.00" fill="#66c2a5" />
<rect x="154.11" y="634.84" width="2.00" height="2.00" fill="#66c2a5" />
<rect x="157.01" y="635.86" width="2.00" height="2.00" fill="#66c2a5" />
<rect x="154.30" y="636.58" width="2.00" height="2.00" fill="#66c2a5" />
<rect x="165.13" y="642.02" width="2.00" height="2.00" fill="#66c2a5" />
<rect x="162.84" y="639.03" width="2.00" height="2.00" fill="#66c2a5" />
<rect x="156.89" y="637.97" width="2.00" height="2.00" fill="#66c2a5" />
<rect x="165.79" y="642.53" width="2.00" height="2.00" fill="#66c2a5" />
<rect x="156.86" y="636.48" width="2.00" height="2.00" fill="#66c2a5" />
<rect x="149.78" y="629.97" width="2.00" height="2.00" fill="#66c2a5" />
<rect x="153.54" y="634.12" width="2.00" height="2.00" fill="#66c2a5" />
<rect x="154.62" y="629.34" width="2.00" height="2.00" fill="#66c2a5" />
<rect x="157.35" y="637.07" width="2.00" height="2.00" fill="#66c2a5" />
<rect x="153.51" y="635.47" width="2.00" height="2.00" fill="#66c2a5" />
<rect x="156.89" y="634.37" width="2.00" height="2.00" fill="#66c2a5" />
<rect x="162.01" y="636.17" width="2.00" height="2.00" fill="#66c2a5" />
<rect x="154.04" y="633.50" width="2.00" height="2.00" fill="#66c2a5" />
<rect x="162.08" y="639.96" width="2.00" height="2.00" fill="#66c2a5" />
<rect x="159.95" y="636.84" width="2.00" height="2.00" fill="#66c2a5" />
<rect x="156.87" y="640.39" width="2.00" height="2.00" fill="#66c2a5" />
<rect x="151.90" y="637.05" width="2.00" height="2.00" fill="#66c2a5" />
<rect x="154.17" y="633.71" width="2.00" height="2.00" fill="#66c2a5" />
<rect x="157.05" y="638.84" width="2.00" height="2.00" fill="#66c2a5" />
<rect x="154.49" y="629.27" width="2.00" height="2.00" fill="#66c2a5" />
<rect x="159.57" y="640.38" width="2.00" height="2.00" fill="#66c2a5" />
<rect x="157.31" y="641.73" width="2.00" height="2.00" fill="#66c2a5" />
<rect x="158.22" y="637.79" width="2.00" height="2.00" fill="#66c2a5" />
<rect x="161.79" y="641.13" width="2.00" height="2.00" fill="#66c2a5" />
<rect x="167.10" y="641.56" width="2.00" height="2.00" fill="#66c2a5" />
<rect x="159.07" y="632.29" width="2.00" height="2.00" fill="#66c2a5" />
<rect x="162.16" y="639.48" width="2.00" height="2.00" fill="#66c2a5" />
<rect x="159.19" y="642.98" width="2.00" height="2.00" fill="#66c2a5" />
<rect x="157.80" y="636.08" width="2.00" height="2.00" fill="#66c2a5" />
<rect x="156.03" y="633.02" width="2.00" height="2.00" fill="#66c2a5" />
<rect x="153.42" y="634.73" width="2.00" height="2.00" fill="#66c2a5" />
<rect x="157.60" y="636.76" width="2.00" height="2.00" fill="#66c2a5" />
<rect x="155.41" y="637.15" width="2.00" height="2.00" fill="#66c2a5" />
<rect x="160.23" y="638.44" width="2.00" height="2.00" fill="#66c2a5" />
<rect x="161.12" y="639.17" width="2.00" height="2.00" fill="#66c2a5" />
<rect x="149.66" y="633.70" width="2.00" height="2.00" fill="#66c2a5" />
<rect x="161.15" y="637.06" width="2.00" height="2.00" fill="#66c2a5" />
<rect x="162.59" y="641.75" width="2.00" height="2.00" fill="#66c2a5" />
<rect x="148.50" y="632.64" width="2.00" height="2.00" fill="#66c2a5" />
<rect x="158.04" y="639.33" width="2.00" height="2.00" fill="#66c2a5" />
<rect x="158.71" y="637.13" width="2.00" height="2.00" fill="#66c2a5" />
<rect x="148.27" y="631.23" width="2.00" height="2.00" fill="#66c2a5" />
<rect x="158.03" y="636.19" width="2.00" height="2.00" fill="#66c2a5" />
<rect x="159.20" y="638.16" width="2.00" height="2.00" fill="#66c2a5" />
<rect x="161.46" y="638.88" width="2.00" height="2.00" fill="#66c2a5" />
<rect x="160.07" y="633.11" width="2.00" height="2.00" fill="#66c2a5" />
<rect x="154.44" y="635.69" width="2.00" height="2.00" fill="#66c2a5" />
<rect x="164.85" y="641.79" width="2.00" height="2.00" fill="#66c2a5" />
<rect x="154.80" y="638.41" width="2.00" height="2.00" fill="#66c2a5" />
<rect x="154.86" y="636.21" width="2.00" height="2.00" fill="#66c2a5" />
<rect x="166.07" y="643.90" width="2.00" height="2.00" fill="#66c2a5" />
<rect x="164.74" y="640.77" width="2.00" height="2.00" fill="#66c2a5" />
<rect x="158.67" y="637.29" width="2.00" height="2.00" fill="#66c2a5" />
<rect x="156.61" y="638.74" width="2.00" height="2.00" fill="#66c2a5" />
<rect x="167.59" y="643.73" width="2.00" height="2.00" fill="#66c2a5" />
<rect x="153.89" y="634.75" width="2.00" height="2.00" fill="#66c2a5" />
<rect x="151.42" y="632.65" width="2.00" height="2.00" fill="#66c2a5" />
<rect x="160.80" y="638.57" width="2.00" height="2.00" fill="#66c2a5" />
<rect x="162.26" y="636.43" width="2.00" height="2.00" fill="#66c2a5" />
<rect x="150.18" y="627.13" width="2.00" height="2.00" fill="#66c2a5" />
<rect x="144.14" y="624.03" width="2.00" height="2.00" fill="#66c2a5" />
<rect x="143.48" y="626.99" width="2.00" height="2.00" fill="#66c2a5" />
<rect x="146.79" y="626.68" width="2.00" height="2.00" fill="#66c2a5" />
<rect x="146.05" y="630.69" width="2.00" height="2.00" fill="#66c2a5" />
<rect x="145.57" y="627.55" width="2.00" height="2.00" fill="#66c2a5" />
<rect x="150.20" y="631.24" width="2.00" height="2.00" fill="#66c2a5" />
<rect x="141.75" y="626.78" width="2.00" height="2.00" fill="#66c2a5" />
<rect x="151.24" y="629.00" width="2.00" height="2.00" fill="#66c2a5" />
<rect x="145.35" y="627.48" width="2.00" height="2.00" fill="#66c2a5" />
<rect x="148.71" y="630.97" width="2.00" height="2.00" fill="#66c2a5" />
<rect x="146.30" y="624.64" width="2.00" height="2.00" fill="#66c2a5" />
<rect x="145.11" y="628.81" width="2.00" height="2.00" fill="#66c2a5" />
<rect x="143.30" y="622.17" width="2.00" height="2.00" fill="#66c2a5" />
<ellipse cx="235.7" cy="533.8" rx="9.4" ry="5.6" transform="rotate(20 235.7 533.8)" fill="#8da0cb" fill-opacity="0.1" stroke="#8da0cb" stroke-width="0.9"/>
<path d="M237.47,528.83 L238.87,531.33 L236.07,531.33 Z" fill="#8da0cb"/>
<path d="M235.71,531.21 L237.11,533.71 L234.31,533.71 Z" fill="#8da0cb"/>
<path d="M238.27,531.60 L239.67,534.10 L236.87,534.10 Z" fill="#8da0cb"/>
<path d="M233.60,530.52 L235.00,533.02 L232.20,533.02 Z" fill="#8da0cb"/>
<path d="M236.56,531.06 L237.96,533.56 L235.16,533.56 Z" fill="#8da0cb"/>
<path d="M235.86,533.65 L237.26,536.15 L234.46,536.15 Z" fill="#8da0cb"/>
<path d="M239.17,536.77 L240.57,539.27 L237.77,539.27 Z" fill="#8da0cb"/>
<path d="M233.94,530.60 L235.34,533.10 L232.54,533.10 Z" fill="#8da0cb"/>
<path d="M229.88,532.53 L231.28,535.03 L228.48,535.03 Z" fill="#8da0cb"/>
<path d="M233.89,531.36 L235.29,533.86 L232.49,533.86 Z" fill="#8da0cb"/>
<path d="M238.93,530.53 L240.33,533.03 L237.53,533.03 Z" fill="#8da0cb"/>
<path d="M237.87,532.82 L239.27,535.32 L236.47,535.32 Z" fill="#8da0cb"/>
<path d="M229.99,530.59 L231.39,533.09 L228.59,533.09 Z" fill="#8da0cb"/>
<path d="M241.42,530.48 L242.82,532.98 L240.02,532.98 Z" fill="#8da0cb"/>
<path d="M238.87,533.66 L240.27,536.16 L237.47,536.16 Z" fill="#8da0cb"/>
<path d="M237.61,533.66 L239.01,536.16 L236.21,536.16 Z" fill="#8da0cb"/>
<path d="M240.82,533.49 L242.22,535.99 L239.42,535.99 Z" fill="#8da0cb"/>
<path d="M239.50,532.64 L240.90,535.14 L238.10,535.14 Z" fill="#8da0cb"/>
<path d="M239.27,531.74 L240.67,534.24 L237.87,534.24 Z" fill="#8da0cb"/>
<path d="M234.82,535.24 L236.22,537.74 L233.42,537.74 Z" fill="#8da0cb"/>
<path d="M237.90,532.56 L239.30,535.06 L236.50,535.06 Z" fill="#8da0cb"/>
<path d="M232.97,529.50 L234.37,532.00 L231.57,532.00 Z" fill="#8da0cb"/>
<path d="M236.34,534.20 L237.74,536.70 L234.94,536.70 Z" fill="#8da0cb"/>
<path d="M237.39,533.75 L238.79,536.25 L235.99,536.25 Z" fill="#8da0cb"/>
<path d="M235.29,534.65 L236.69,537.15 L233.89,537.15 Z" fill="#8da0cb"/>
<path d="M235.34,530.85 L236.74,533.35 L233.94,533.35 Z" fill="#8da0cb"/>
<path d="M239.24,533.50 L240.64,536.00 L237.84,536.00 Z" fill="#8da0cb"/>
<path d="M235.74,530.94 L237.14,533.44 L234.34,533.44 Z" fill="#8da0cb"/>
<path d="M235.04,533.09 L236.44,535.59 L233.64,535.59 Z" fill="#8da0cb"/>
<path d="M238.27,530.58 L239.67,533.08 L236.87,533.08 Z" fill="#8da0cb"/>
<path d="M237.61,533.14 L239.01,535.64 L236.21,535.64 Z" fill="#8da0cb"/>
<path d="M232.45,532.45 L233.85,534.95 L231.05,534.95 Z" fill="#8da0cb"/>
<path d="M235.58,531.36 L236.98,533.86 L234.18,533.86 Z" fill="#8da0cb"/>
<path d="M238.12,535.62 L239.52,538.12 L236.72,538.12 Z" fill="#8da0cb"/>
<path d="M233.71,532.24 L235.11,534.74 L232.31,534.74 Z" fill="#8da0cb"/>
<path d="M232.33,535.02 L233.73,537.52 L230.93,537.52 Z" fill="#8da0cb"/>
<path d="M233.87,533.82 L235.27,536.32 L232.47,536.32 Z" fill="#8da0cb"/>
<path d="M233.60,532.95 L235.00,535.45 L232.20,535.45 Z" fill="#8da0cb"/>
<path d="M242.07,531.15 L243.47,533.65 L240.67,533.65 Z" fill="#8da0cb"/>
<path d="M234.52,532.66 L235.92,535.16 L233.12,535.16 Z" fill="#8da0cb"/>
<path d="M236.42,531.00 L237.82,533.50 L235.02,533.50 Z" fill="#8da0cb"/>
<path d="M243.04,534.90 L244.44,537.40 L241.64,537.40 Z" fill="#8da0cb"/>
<path d="M230.23,531.81 L231.63,534.31 L228.83,534.31 Z" fill="#8da0cb"/>
<path d="M229.78,532.24 L231.18,534.74 L228.38,534.74 Z" fill="#8da0cb"/>
<path d="M234.27,531.85 L235.67,534.35 L232.87,534.35 Z" fill="#8da0cb"/>
<path d="M240.45,534.05 L241.85,536.55 L239.05,536.55 Z" fill="#8da0cb"/>
<path d="M232.80,527.68 L234.20,530.18 L231.40,530.18 Z" fill="#8da0cb"/>
<path d="M239.79,535.06 L241.19,537.56 L238.39,537.56 Z" fill="#8da0cb"/>
<path d="M233.01,532.83 L234.41,535.33 L231.61,535.33 Z" fill="#8da0cb"/>
<path d="M237.55,534.06 L238.95,536.56 L236.15,536.56 Z" fill="#8da0cb"/>
<path d="M229.73,529.37 L231.13,531.87 L228.33,531.87 Z" fill="#8da0cb"/>
<path d="M238.85,534.70 L240.25,537.20 L237.45,537.20 Z" fill="#8da0cb"/>
<path d="M240.16,529.50 L241.56,532.00 L238.76,532.00 Z" fill="#8da0cb"/>
<path d="M236.55,533.38 L237.95,535.88 L235.15,535.88 Z" fill="#8da0cb"/>
<path d="M243.20,533.37 L244.60,535.87 L241.80,535.87 Z" fill="#8da0cb"/>
<path d="M235.17,531.96 L236.57,534.46 L233.77,534.46 Z" fill="#8da0cb"/>
<path d="M239.56,532.59 L240.96,535.09 L238.16,535.09 Z" fill="#8da0cb"/>
<path d="M240.66,532.30 L242.06,534.80 L239.26,534.80 Z" fill="#8da0cb"/>
<path d="M237.54,531.69 L238.94,534.19 L236.14,534.19 Z" fill="#8da0cb"/>
<path d="M237.28,531.27 L238.68,533.77 L235.88,533.77 Z" fill="#8da0cb"/>
<path d="M230.23,532.29 L231.63,534.79 L228.83,534.79 Z" fill="#8da0cb"/>
<path d="M237.68,531.68 L239.08,534.18 L236.28,534.18 Z" fill="#8da0cb"/>
<path d="M236.33,534.30 L237.73,536.80 L234.93,536.80 Z" fill="#8da0cb"/>
<path d="M233.09,530.91 L234.49,533.41 L231.69,533.41 Z" fill="#8da0cb"/>
<path d="M237.77,533.89 L239.17,536.39 L236.37,536.39 Z" fill="#8da0cb"/>
<path d="M236.54,528.15 L237.94,530.65 L235.14,530.65 Z" fill="#8da0cb"/>
<path d="M240.26,534.40 L241.66,536.90 L238.86,536.90 Z" fill="#8da0cb"/>
<path d="M236.52,531.82 L237.92,534.32 L235.12,534.32 Z" fill="#8da0cb"/>
<path d="M237.46,531.87 L238.86,534.37 L236.06,534.37 Z" fill="#8da0cb"/>
<path d="M233.34,529.74 L234.74,532.24 L231.94,532.24 Z" fill="#8da0cb"/>
<path d="M234.69,530.48 L236.09,532.98 L233.29,532.98 Z" fill="#8da0cb"/>
<path d="M232.00,532.02 L233.40,534.52 L230.60,534.52 Z" fill="#8da0cb"/>
<path d="M231.48,531.87 L232.88,534.37 L230.08,534.37 Z" fill="#8da0cb"/>
<path d="M232.67,531.69 L234.07,534.19 L231.27,534.19 Z" fill="#8da0cb"/>
<path d="M240.78,534.34 L242.18,536.84 L239.38,536.84 Z" fill="#8da0cb"/>
<path d="M233.82,531.49 L235.22,533.99 L232.42,533.99 Z" fill="#8da0cb"/>
<path d="M237.92,529.40 L239.32,531.90 L236.52,531.90 Z" fill="#8da0cb"/>
<path d="M234.16,531.85 L235.56,534.35 L232.76,534.35 Z" fill="#8da0cb"/>
<path d="M234.67,531.87 L236.07,534.37 L233.27,534.37 Z" fill="#8da0cb"/>
<path d="M238.27,534.56 L239.67,537.06 L236.87,537.06 Z" fill="#8da0cb"/>
<path d="M238.96,534.45 L240.36,536.95 L237.56,536.95 Z" fill="#8da0cb"/>
<path d="M235.35,531.92 L236.75,534.42 L233.95,534.42 Z" fill="#8da0cb"/>
<path d="M235.59,531.41 L236.99,533.91 L234.19,533.91 Z" fill="#8da0cb"/>
<path d="M236.81,529.02 L238.21,531.52 L235.41,531.52 Z" fill="#8da0cb"/>
<path d="M235.20,531.85 L236.60,534.35 L233.80,534.35 Z" fill="#8da0cb"/>
<path d="M233.05,531.07 L234.45,533.57 L231.65,533.57 Z" fill="#8da0cb"/>
<path d="M238.14,532.64 L239.54,535.14 L236.74,535.14 Z" fill="#8da0cb"/>
<path d="M241.89,530.95 L243.29,533.45 L240.49,533.45 Z" fill="#8da0cb"/>
<path d="M236.79,528.81 L238.19,531.31 L235.39,531.31 Z" fill="#8da0cb"/>
<path d="M237.53,536.93 L238.93,539.43 L236.13,539.43 Z" fill="#8da0cb"/>
<path d="M238.30,527.10 L239.70,529.60 L236.90,529.60 Z" fill="#8da0cb"/>
<path d="M219.20,529.10 L220.60,531.60 L217.80,531.60 Z" fill="#8da0cb"/>
<path d="M224.40,526.40 L225.80,528.90 L223.00,528.90 Z" fill="#8da0cb"/>
<circle cx="131.90" cy="523.30" r="1.1" fill="#fc8d62" />
<circle cx="131.90" cy="540.00" r="1.1" fill="#fc8d62" />
<circle cx="113.00" cy="537.50" r="1.1" fill="#fc8d62" />
<circle cx="80.50" cy="492.50" r="1.1" fill="#fc8d62" />
<rect x="128.20" y="601.90" width="2.00" height="2.00" fill="#66c2a5" />
<rect x="131.30" y="614.00" width="2.00" height="2.00" fill="#66c2a5" />
<text x="78.30" y="495.30" font-size="5" text-anchor="start" fill="#fc8d62" stroke="#fc8d62" stroke-width="0.15" >lEVs4</text>
<text x="128.00" y="521.30" font-size="5" text-anchor="start" fill="#fc8d62" stroke="#fc8d62" stroke-width="0.15" >lEVs85</text>
<text x="100.50" y="543.50" font-size="5" text-anchor="start" fill="#fc8d62" stroke="#fc8d62" stroke-width="0.15" >lEVs71</text>
<text x="128.00" y="545.80" font-size="5" text-anchor="start" fill="#fc8d62" stroke="#fc8d62" stroke-width="0.15" >lEVs37</text>
<text x="112.10" y="605.80" font-size="4.6" text-anchor="start" fill="#66c2a5" stroke="#66c2a5" stroke-width="0.138" >sEVs83</text>
<text x="120.20" y="612.90" font-size="4.6" text-anchor="start" fill="#66c2a5" stroke="#66c2a5" stroke-width="0.138" >sEVs67</text>
<rect x="72.5" y="484.5" width="180.0" height="175.0" fill="none" stroke="#444" stroke-width="1"/>
<line x1="70.50" y1="507.20" x2="72.50" y2="507.20" stroke="#333" stroke-width="0.7" />
<text x="70.00" y="508.70" font-size="4.2" text-anchor="end" fill="#333" stroke="#333" stroke-width="0.126" >20</text>
<line x1="70.50" y1="534.95" x2="72.50" y2="534.95" stroke="#333" stroke-width="0.7" />
<text x="70.00" y="536.45" font-size="4.2" text-anchor="end" fill="#333" stroke="#333" stroke-width="0.126" >10</text>
<line x1="70.50" y1="562.70" x2="72.50" y2="562.70" stroke="#333" stroke-width="0.7" />
<text x="70.00" y="564.20" font-size="4.2" text-anchor="end" fill="#333" stroke="#333" stroke-width="0.126" >0</text>
<line x1="70.50" y1="590.45" x2="72.50" y2="590.45" stroke="#333" stroke-width="0.7" />
<text x="70.00" y="591.95" font-size="4.2" text-anchor="end" fill="#333" stroke="#333" stroke-width="0.126" >-10</text>
<line x1="70.50" y1="618.20" x2="72.50" y2="618.20" stroke="#333" stroke-width="0.7" />
<text x="70.00" y="619.70" font-size="4.2" text-anchor="end" fill="#333" stroke="#333" stroke-width="0.126" >-20</text>
<line x1="70.50" y1="645.95" x2="72.50" y2="645.95" stroke="#333" stroke-width="0.7" />
<text x="70.00" y="647.45" font-size="4.2" text-anchor="end" fill="#333" stroke="#333" stroke-width="0.126" >-30</text>
<line x1="76.40" y1="659.50" x2="76.40" y2="661.50" stroke="#333" stroke-width="0.7" />
<text x="76.40" y="664.30" font-size="4.2" text-anchor="middle" fill="#333" stroke="#333" stroke-width="0.126" >-40</text>
<line x1="121.40" y1="659.50" x2="121.40" y2="661.50" stroke="#333" stroke-width="0.7" />
<text x="121.40" y="664.30" font-size="4.2" text-anchor="middle" fill="#333" stroke="#333" stroke-width="0.126" >-20</text>
<line x1="166.40" y1="659.50" x2="166.40" y2="661.50" stroke="#333" stroke-width="0.7" />
<text x="166.40" y="664.30" font-size="4.2" text-anchor="middle" fill="#333" stroke="#333" stroke-width="0.126" >0</text>
<line x1="211.40" y1="659.50" x2="211.40" y2="661.50" stroke="#333" stroke-width="0.7" />
<text x="211.40" y="664.30" font-size="4.2" text-anchor="middle" fill="#333" stroke="#333" stroke-width="0.126" >20</text>
<text x="169.60" y="670.70" font-size="7.3" text-anchor="middle" fill="#000" stroke="#000" stroke-width="0.219" >Dim1 (25.2%)</text>
<text x="0" y="0" font-size="7.3" text-anchor="middle" transform="translate(61.3 564.8) rotate(-90)">Dim2 (15.2%)</text>
<text x="257.20" y="628.20" font-size="7" text-anchor="start" fill="#000" stroke="#000" stroke-width="0.21" >Groups</text>
<rect x="258.6" y="630.8" width="8.8" height="8.3" fill="#66c2a5" fill-opacity="0.1" stroke="#66c2a5" stroke-opacity="0.5" stroke-width="1"/>
<rect x="261.30" y="633.20" width="3.40" height="3.40" fill="#66c2a5" />
<text x="270.00" y="636.90" font-size="6.5" text-anchor="start" fill="#000" stroke="#000" stroke-width="0.195" >sEVs</text>
<rect x="258.6" y="640.5" width="8.8" height="8.3" fill="#fc8d62" fill-opacity="0.1" stroke="#fc8d62" stroke-opacity="0.5" stroke-width="1"/>
<circle cx="263.00" cy="644.70" r="1.9" fill="#fc8d62" />
<text x="270.00" y="646.60" font-size="6.5" text-anchor="start" fill="#000" stroke="#000" stroke-width="0.195" >lEVs</text>
<rect x="258.6" y="650.3" width="8.8" height="8.3" fill="#8da0cb" fill-opacity="0.1" stroke="#8da0cb" stroke-opacity="0.5" stroke-width="1"/>
<path d="M263,651.6999999999999 L265.4,656.5 L260.6,656.5 Z" fill="#8da0cb"/>
<text x="270.00" y="656.40" font-size="6.5" text-anchor="start" fill="#000" stroke="#000" stroke-width="0.195" >plasma</text></svg></body></html>
